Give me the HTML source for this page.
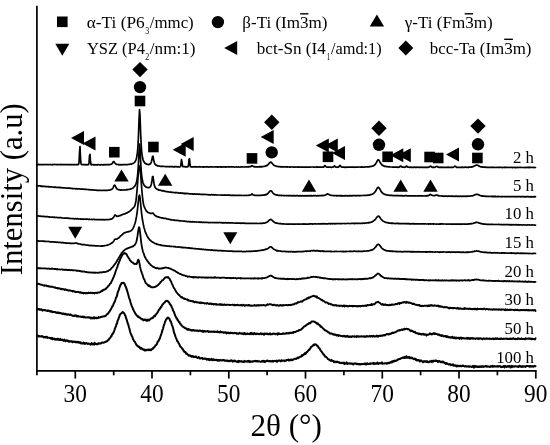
<!DOCTYPE html>
<html><head><meta charset="utf-8"><title>XRD patterns</title>
<style>
html,body{margin:0;padding:0;background:#fff;}
svg{display:block;}
text{font-family:"Liberation Serif",serif;fill:#000;}
</style></head>
<body>
<svg width="550" height="445" viewBox="0 0 550 445">
<rect width="550" height="445" fill="#fff"/>
<g fill="none" stroke="#000" stroke-linejoin="round" stroke-linecap="round">
<path d="M37.0,164.7 L37.5,164.6 L38.0,164.6 L38.5,164.4 L39.0,164.6 L39.5,164.6 L40.0,164.6 L40.5,164.5 L41.0,164.6 L41.5,164.6 L42.0,164.5 L42.5,164.7 L43.0,164.7 L43.5,164.7 L44.0,164.6 L44.5,164.6 L45.0,164.5 L45.5,164.5 L46.0,164.7 L46.5,164.5 L47.0,164.5 L47.5,164.6 L48.0,164.7 L48.5,164.6 L49.0,164.5 L49.5,164.5 L50.0,164.6 L50.5,164.6 L51.0,164.5 L51.5,164.6 L52.0,164.7 L52.5,164.8 L53.0,164.5 L53.5,164.6 L54.0,164.5 L54.5,164.4 L55.0,164.5 L55.5,164.5 L56.0,164.7 L56.5,164.6 L57.0,164.5 L57.5,164.7 L58.0,164.6 L58.5,164.5 L59.0,164.6 L59.5,164.6 L60.0,164.5 L60.5,164.6 L61.0,164.4 L61.5,164.6 L62.0,164.7 L62.5,164.7 L63.0,164.7 L63.5,164.7 L64.0,164.7 L64.5,164.5 L65.0,164.7 L65.5,164.5 L66.0,164.6 L66.5,164.5 L67.0,164.7 L67.5,164.7 L68.0,164.6 L68.5,164.8 L69.0,164.6 L69.5,164.7 L70.0,164.7 L70.5,164.6 L71.0,164.7 L71.5,164.8 L72.0,164.6 L72.5,164.7 L73.0,164.6 L73.5,164.8 L74.0,164.7 L74.5,164.7 L75.0,164.7 L75.5,164.7 L76.0,164.6 L76.5,164.8 L77.0,164.6 L77.5,164.7 L78.0,164.7 L78.5,164.5 L79.0,162.7 L79.5,152.8 L80.0,146.6 L80.5,157.8 L81.0,163.8 L81.5,164.6 L82.0,164.7 L82.5,164.7 L83.0,164.6 L83.5,164.7 L84.0,164.7 L84.5,164.7 L85.0,164.8 L85.5,164.6 L86.0,164.7 L86.5,164.9 L87.0,164.8 L87.5,164.6 L88.0,164.7 L88.5,164.7 L89.0,162.9 L89.5,155.8 L90.0,154.4 L90.5,161.7 L91.0,164.6 L91.5,164.8 L92.0,164.7 L92.5,164.7 L93.0,164.7 L93.5,164.8 L94.0,164.7 L94.5,164.8 L95.0,164.8 L95.5,164.8 L96.0,164.7 L96.5,164.9 L97.0,164.7 L97.5,164.8 L98.0,164.7 L98.5,164.6 L99.0,164.8 L99.5,164.8 L100.0,164.8 L100.5,164.8 L101.0,164.7 L101.5,164.7 L102.0,164.8 L102.5,164.9 L103.0,164.8 L103.5,164.7 L104.0,164.8 L104.5,164.7 L105.0,164.7 L105.5,164.8 L106.0,164.7 L106.5,164.6 L107.0,164.7 L107.5,164.7 L108.0,164.7 L108.5,164.8 L109.0,164.6 L109.5,164.6 L110.0,164.5 L110.5,164.4 L111.0,164.3 L111.5,164.0 L112.0,163.6 L112.5,163.1 L113.0,162.1 L113.5,161.5 L114.0,161.6 L114.5,162.4 L115.0,163.1 L115.5,163.7 L116.0,164.1 L116.5,164.4 L117.0,164.4 L117.5,164.5 L118.0,164.6 L118.5,164.5 L119.0,164.9 L119.5,164.7 L120.0,164.6 L120.5,164.8 L121.0,164.7 L121.5,164.8 L122.0,164.8 L122.5,164.7 L123.0,164.7 L123.5,164.7 L124.0,164.7 L124.5,164.6 L125.0,164.6 L125.5,164.7 L126.0,164.7 L126.5,164.7 L127.0,164.7 L127.5,164.6 L128.0,164.5 L128.5,164.5 L129.0,164.3 L129.5,164.3 L130.0,164.2 L130.5,164.2 L131.0,164.2 L131.5,163.9 L132.0,163.8 L132.5,163.5 L133.0,163.4 L133.5,163.2 L134.0,162.8 L134.5,162.3 L135.0,161.9 L135.5,161.0 L136.0,159.7 L136.5,158.0 L137.0,155.5 L137.5,151.6 L138.0,145.2 L138.5,134.9 L139.0,120.5 L139.5,109.7 L140.0,115.0 L140.5,129.5 L141.0,141.8 L141.5,149.5 L142.0,154.3 L142.5,157.6 L143.0,159.4 L143.5,161.0 L144.0,161.8 L144.5,162.6 L145.0,163.2 L145.5,163.5 L146.0,163.9 L146.5,164.1 L147.0,164.2 L147.5,164.4 L148.0,164.4 L148.5,164.6 L149.0,164.5 L149.5,164.5 L150.0,163.9 L150.5,163.7 L151.0,162.9 L151.5,161.5 L152.0,159.3 L152.5,156.5 L153.0,156.2 L153.5,158.8 L154.0,161.6 L154.5,163.1 L155.0,164.1 L155.5,164.6 L156.0,165.1 L156.5,165.2 L157.0,165.5 L157.5,165.9 L158.0,165.9 L158.5,166.0 L159.0,166.1 L159.5,166.2 L160.0,166.2 L160.5,166.4 L161.0,166.3 L161.5,166.3 L162.0,166.5 L162.5,166.2 L163.0,166.4 L163.5,166.5 L164.0,166.4 L164.5,166.5 L165.0,166.5 L165.5,166.5 L166.0,166.8 L166.5,166.6 L167.0,166.6 L167.5,166.7 L168.0,166.6 L168.5,166.7 L169.0,166.7 L169.5,166.8 L170.0,166.6 L170.5,166.7 L171.0,166.7 L171.5,166.6 L172.0,166.8 L172.5,166.6 L173.0,166.8 L173.5,166.8 L174.0,166.8 L174.5,166.7 L175.0,166.8 L175.5,166.6 L176.0,166.7 L176.5,166.7 L177.0,166.8 L177.5,166.8 L178.0,166.8 L178.5,166.7 L179.0,166.9 L179.5,167.0 L180.0,166.8 L180.5,166.5 L181.0,164.0 L181.5,159.6 L182.0,162.1 L182.5,165.9 L183.0,166.7 L183.5,166.7 L184.0,166.7 L184.5,166.7 L185.0,166.8 L185.5,166.7 L186.0,166.9 L186.5,166.9 L187.0,166.7 L187.5,166.8 L188.0,166.7 L188.5,165.4 L189.0,159.8 L189.5,158.7 L190.0,164.5 L190.5,166.7 L191.0,166.8 L191.5,167.0 L192.0,166.9 L192.5,166.9 L193.0,166.8 L193.5,166.9 L194.0,166.9 L194.5,166.7 L195.0,166.9 L195.5,166.7 L196.0,166.9 L196.5,166.8 L197.0,167.0 L197.5,166.9 L198.0,167.0 L198.5,167.0 L199.0,166.8 L199.5,166.7 L200.0,166.9 L200.5,167.0 L201.0,166.9 L201.5,167.0 L202.0,167.0 L202.5,166.8 L203.0,166.9 L203.5,167.1 L204.0,166.9 L204.5,166.8 L205.0,166.9 L205.5,166.9 L206.0,167.0 L206.5,166.8 L207.0,166.9 L207.5,166.7 L208.0,167.0 L208.5,167.1 L209.0,167.0 L209.5,166.8 L210.0,167.0 L210.5,166.7 L211.0,167.0 L211.5,166.9 L212.0,166.9 L212.5,167.0 L213.0,166.9 L213.5,167.0 L214.0,167.0 L214.5,167.0 L215.0,166.8 L215.5,166.9 L216.0,166.9 L216.5,167.0 L217.0,166.9 L217.5,167.1 L218.0,166.9 L218.5,166.9 L219.0,167.0 L219.5,166.9 L220.0,167.0 L220.5,166.9 L221.0,167.1 L221.5,166.9 L222.0,167.0 L222.5,167.0 L223.0,167.1 L223.5,166.8 L224.0,167.0 L224.5,166.9 L225.0,167.0 L225.5,167.1 L226.0,166.9 L226.5,166.9 L227.0,166.9 L227.5,167.0 L228.0,166.8 L228.5,167.0 L229.0,166.9 L229.5,166.9 L230.0,166.9 L230.5,167.0 L231.0,166.9 L231.5,166.9 L232.0,167.0 L232.5,166.9 L233.0,166.8 L233.5,166.9 L234.0,167.0 L234.5,167.1 L235.0,167.1 L235.5,167.0 L236.0,167.0 L236.5,166.9 L237.0,167.0 L237.5,167.0 L238.0,167.1 L238.5,166.9 L239.0,167.0 L239.5,167.0 L240.0,167.1 L240.5,167.0 L241.0,166.9 L241.5,166.9 L242.0,166.9 L242.5,166.9 L243.0,167.0 L243.5,167.0 L244.0,167.0 L244.5,167.0 L245.0,166.9 L245.5,167.0 L246.0,166.9 L246.5,166.9 L247.0,167.0 L247.5,166.9 L248.0,166.7 L248.5,166.8 L249.0,166.8 L249.5,166.7 L250.0,166.6 L250.5,166.7 L251.0,166.5 L251.5,165.9 L252.0,165.8 L252.5,166.1 L253.0,166.2 L253.5,166.6 L254.0,166.7 L254.5,166.8 L255.0,166.7 L255.5,166.8 L256.0,166.9 L256.5,166.9 L257.0,167.0 L257.5,166.8 L258.0,167.0 L258.5,166.9 L259.0,166.7 L259.5,166.8 L260.0,166.7 L260.5,166.8 L261.0,166.7 L261.5,166.8 L262.0,166.7 L262.5,166.6 L263.0,166.6 L263.5,166.5 L264.0,166.4 L264.5,166.4 L265.0,166.2 L265.5,166.1 L266.0,165.9 L266.5,165.6 L267.0,165.4 L267.5,165.3 L268.0,164.7 L268.5,164.2 L269.0,163.5 L269.5,162.9 L270.0,162.5 L270.5,162.2 L271.0,162.1 L271.5,162.5 L272.0,163.1 L272.5,163.7 L273.0,164.3 L273.5,164.8 L274.0,165.3 L274.5,165.6 L275.0,165.8 L275.5,166.0 L276.0,166.0 L276.5,166.3 L277.0,166.3 L277.5,166.5 L278.0,166.6 L278.5,166.7 L279.0,166.6 L279.5,166.5 L280.0,166.8 L280.5,166.9 L281.0,166.7 L281.5,166.8 L282.0,166.9 L282.5,166.8 L283.0,167.0 L283.5,166.9 L284.0,166.8 L284.5,167.0 L285.0,167.0 L285.5,166.9 L286.0,167.0 L286.5,166.8 L287.0,167.1 L287.5,166.9 L288.0,167.0 L288.5,167.0 L289.0,167.0 L289.5,167.1 L290.0,166.9 L290.5,167.1 L291.0,167.0 L291.5,167.0 L292.0,167.0 L292.5,166.9 L293.0,167.0 L293.5,167.1 L294.0,167.0 L294.5,167.1 L295.0,167.1 L295.5,167.0 L296.0,166.9 L296.5,167.0 L297.0,167.1 L297.5,167.1 L298.0,167.0 L298.5,167.1 L299.0,166.9 L299.5,167.0 L300.0,167.1 L300.5,167.2 L301.0,167.1 L301.5,167.0 L302.0,167.1 L302.5,167.1 L303.0,167.2 L303.5,167.1 L304.0,167.0 L304.5,167.1 L305.0,167.1 L305.5,167.2 L306.0,167.3 L306.5,167.0 L307.0,167.1 L307.5,167.1 L308.0,167.1 L308.5,167.1 L309.0,167.1 L309.5,167.1 L310.0,167.2 L310.5,167.1 L311.0,167.0 L311.5,167.0 L312.0,167.0 L312.5,167.0 L313.0,167.0 L313.5,167.2 L314.0,167.1 L314.5,167.1 L315.0,167.0 L315.5,167.0 L316.0,167.0 L316.5,167.3 L317.0,166.9 L317.5,167.1 L318.0,167.2 L318.5,167.1 L319.0,167.1 L319.5,167.2 L320.0,167.0 L320.5,167.2 L321.0,167.2 L321.5,167.0 L322.0,167.1 L322.5,167.1 L323.0,167.2 L323.5,167.1 L324.0,166.6 L324.5,165.9 L325.0,165.6 L325.5,166.2 L326.0,166.8 L326.5,167.0 L327.0,167.1 L327.5,167.2 L328.0,167.2 L328.5,167.1 L329.0,167.2 L329.5,167.1 L330.0,167.1 L330.5,167.1 L331.0,167.3 L331.5,167.4 L332.0,167.2 L332.5,167.2 L333.0,167.2 L333.5,166.7 L334.0,166.3 L334.5,165.9 L335.0,166.4 L335.5,166.9 L336.0,167.1 L336.5,167.1 L337.0,167.3 L337.5,167.2 L338.0,167.2 L338.5,167.1 L339.0,166.5 L339.5,165.9 L340.0,165.4 L340.5,165.9 L341.0,166.6 L341.5,167.0 L342.0,167.2 L342.5,167.2 L343.0,167.2 L343.5,167.1 L344.0,167.2 L344.5,167.3 L345.0,167.2 L345.5,167.2 L346.0,167.3 L346.5,167.3 L347.0,167.2 L347.5,167.1 L348.0,167.1 L348.5,167.2 L349.0,167.2 L349.5,167.2 L350.0,167.1 L350.5,167.2 L351.0,167.1 L351.5,167.2 L352.0,167.1 L352.5,167.2 L353.0,167.1 L353.5,167.1 L354.0,167.1 L354.5,167.3 L355.0,167.2 L355.5,167.1 L356.0,167.0 L356.5,167.1 L357.0,167.2 L357.5,167.2 L358.0,167.0 L358.5,167.0 L359.0,167.1 L359.5,167.0 L360.0,167.0 L360.5,167.1 L361.0,167.1 L361.5,166.9 L362.0,167.1 L362.5,167.1 L363.0,167.1 L363.5,167.0 L364.0,167.2 L364.5,167.0 L365.0,166.9 L365.5,167.0 L366.0,166.8 L366.5,167.0 L367.0,166.8 L367.5,166.9 L368.0,166.8 L368.5,166.9 L369.0,166.8 L369.5,166.7 L370.0,166.6 L370.5,166.6 L371.0,166.3 L371.5,166.4 L372.0,166.3 L372.5,166.1 L373.0,165.9 L373.5,165.9 L374.0,165.4 L374.5,165.1 L375.0,164.5 L375.5,164.1 L376.0,163.0 L376.5,162.5 L377.0,161.3 L377.5,160.3 L378.0,159.8 L378.5,159.8 L379.0,160.3 L379.5,161.2 L380.0,162.2 L380.5,163.0 L381.0,163.8 L381.5,164.2 L382.0,165.0 L382.5,165.4 L383.0,165.6 L383.5,165.7 L384.0,166.0 L384.5,166.4 L385.0,166.3 L385.5,166.4 L386.0,166.5 L386.5,166.7 L387.0,166.7 L387.5,166.7 L388.0,166.7 L388.5,166.8 L389.0,167.0 L389.5,166.9 L390.0,167.0 L390.5,167.0 L391.0,167.0 L391.5,167.0 L392.0,167.0 L392.5,167.1 L393.0,167.1 L393.5,167.0 L394.0,167.1 L394.5,167.1 L395.0,167.2 L395.5,167.1 L396.0,167.2 L396.5,167.0 L397.0,167.2 L397.5,167.3 L398.0,167.1 L398.5,167.3 L399.0,167.2 L399.5,167.0 L400.0,166.4 L400.5,166.1 L401.0,166.1 L401.5,166.6 L402.0,167.1 L402.5,167.1 L403.0,167.1 L403.5,167.1 L404.0,167.2 L404.5,167.3 L405.0,167.2 L405.5,166.9 L406.0,166.3 L406.5,166.1 L407.0,166.3 L407.5,167.1 L408.0,167.2 L408.5,167.1 L409.0,167.2 L409.5,167.4 L410.0,167.2 L410.5,167.2 L411.0,167.3 L411.5,167.2 L412.0,167.4 L412.5,167.4 L413.0,167.2 L413.5,167.4 L414.0,167.2 L414.5,167.2 L415.0,167.3 L415.5,167.3 L416.0,167.2 L416.5,167.4 L417.0,167.2 L417.5,167.2 L418.0,167.2 L418.5,167.4 L419.0,167.4 L419.5,167.3 L420.0,167.2 L420.5,167.3 L421.0,167.3 L421.5,167.2 L422.0,167.2 L422.5,167.4 L423.0,167.4 L423.5,167.3 L424.0,167.4 L424.5,167.3 L425.0,167.3 L425.5,167.3 L426.0,167.2 L426.5,167.3 L427.0,167.3 L427.5,167.5 L428.0,167.3 L428.5,167.3 L429.0,167.1 L429.5,166.7 L430.0,166.3 L430.5,166.2 L431.0,166.4 L431.5,167.0 L432.0,167.1 L432.5,167.3 L433.0,167.4 L433.5,167.2 L434.0,167.3 L434.5,167.3 L435.0,167.2 L435.5,167.0 L436.0,166.5 L436.5,166.5 L437.0,166.3 L437.5,166.7 L438.0,167.2 L438.5,167.1 L439.0,167.4 L439.5,167.4 L440.0,167.4 L440.5,167.3 L441.0,167.2 L441.5,167.2 L442.0,167.5 L442.5,167.3 L443.0,167.3 L443.5,167.5 L444.0,167.3 L444.5,167.3 L445.0,167.3 L445.5,167.3 L446.0,167.3 L446.5,167.3 L447.0,167.4 L447.5,167.4 L448.0,167.1 L448.5,167.2 L449.0,167.4 L449.5,167.3 L450.0,167.3 L450.5,167.4 L451.0,167.2 L451.5,167.4 L452.0,167.4 L452.5,167.4 L453.0,167.3 L453.5,167.2 L454.0,166.8 L454.5,166.3 L455.0,166.2 L455.5,166.4 L456.0,166.7 L456.5,167.3 L457.0,167.4 L457.5,167.4 L458.0,167.3 L458.5,167.4 L459.0,167.3 L459.5,167.3 L460.0,167.3 L460.5,167.3 L461.0,167.3 L461.5,167.5 L462.0,167.2 L462.5,167.2 L463.0,167.3 L463.5,167.4 L464.0,167.3 L464.5,167.3 L465.0,167.2 L465.5,167.2 L466.0,167.2 L466.5,167.3 L467.0,167.3 L467.5,167.3 L468.0,167.2 L468.5,167.4 L469.0,167.1 L469.5,167.0 L470.0,167.1 L470.5,167.1 L471.0,167.1 L471.5,166.9 L472.0,166.9 L472.5,166.9 L473.0,166.6 L473.5,166.4 L474.0,166.1 L474.5,166.0 L475.0,165.8 L475.5,165.4 L476.0,165.2 L476.5,165.0 L477.0,165.0 L477.5,165.2 L478.0,165.4 L478.5,165.7 L479.0,166.1 L479.5,166.2 L480.0,166.6 L480.5,166.8 L481.0,166.8 L481.5,166.8 L482.0,166.9 L482.5,167.1 L483.0,167.0 L483.5,167.1 L484.0,167.1 L484.5,167.2 L485.0,167.3 L485.5,167.2 L486.0,167.1 L486.5,167.4 L487.0,167.3 L487.5,167.4 L488.0,167.3 L488.5,167.4 L489.0,167.4 L489.5,167.4 L490.0,167.3 L490.5,167.3 L491.0,167.4 L491.5,167.4 L492.0,167.4 L492.5,167.3 L493.0,167.2 L493.5,167.4 L494.0,167.4 L494.5,167.4 L495.0,167.5 L495.5,167.5 L496.0,167.4 L496.5,167.5 L497.0,167.4 L497.5,167.5 L498.0,167.4 L498.5,167.4 L499.0,167.4 L499.5,167.4 L500.0,167.3 L500.5,167.4 L501.0,167.2 L501.5,167.5 L502.0,167.5 L502.5,167.6 L503.0,167.5 L503.5,167.4 L504.0,167.3 L504.5,167.6 L505.0,167.3 L505.5,167.5 L506.0,167.3 L506.5,167.4 L507.0,167.5 L507.5,167.5 L508.0,167.4 L508.5,167.4 L509.0,167.4 L509.5,167.5 L510.0,167.5 L510.5,167.4 L511.0,167.5 L511.5,167.4 L512.0,167.5 L512.5,167.6 L513.0,167.4 L513.5,167.5 L514.0,167.5 L514.5,167.4 L515.0,167.6 L515.5,167.6 L516.0,167.4 L516.5,167.5 L517.0,167.6 L517.5,167.4 L518.0,167.5 L518.5,167.5 L519.0,167.4 L519.5,167.5 L520.0,167.4 L520.5,167.4 L521.0,167.4 L521.5,167.5 L522.0,167.5 L522.5,167.5 L523.0,167.5 L523.5,167.5 L524.0,167.6 L524.5,167.5 L525.0,167.4 L525.5,167.5 L526.0,167.6 L526.5,167.4 L527.0,167.4 L527.5,167.5 L528.0,167.4 L528.5,167.6 L529.0,167.3 L529.5,167.6 L530.0,167.4 L530.5,167.4 L531.0,167.5 L531.5,167.3 L532.0,167.5 L532.5,167.5 L533.0,167.4 L533.5,167.5 L534.0,167.6 L534.5,167.4 L535.0,167.5 L535.5,167.5" stroke-width="1.7"/>
<path d="M37.0,185.9 L37.5,185.8 L38.0,185.9 L38.5,186.0 L39.0,185.7 L39.5,186.0 L40.0,185.9 L40.5,185.9 L41.0,186.3 L41.5,186.2 L42.0,186.3 L42.5,186.2 L43.0,186.3 L43.5,186.3 L44.0,186.3 L44.5,186.4 L45.0,186.4 L45.5,186.6 L46.0,186.5 L46.5,186.6 L47.0,186.6 L47.5,186.6 L48.0,186.6 L48.5,186.8 L49.0,186.7 L49.5,186.8 L50.0,186.8 L50.5,186.9 L51.0,186.9 L51.5,186.9 L52.0,187.0 L52.5,187.0 L53.0,187.1 L53.5,187.1 L54.0,187.2 L54.5,187.3 L55.0,187.2 L55.5,187.1 L56.0,187.4 L56.5,187.5 L57.0,187.3 L57.5,187.4 L58.0,187.3 L58.5,187.5 L59.0,187.4 L59.5,187.7 L60.0,187.4 L60.5,187.6 L61.0,187.7 L61.5,187.7 L62.0,187.7 L62.5,187.8 L63.0,187.8 L63.5,187.8 L64.0,187.9 L64.5,187.9 L65.0,187.9 L65.5,188.0 L66.0,188.0 L66.5,188.1 L67.0,188.0 L67.5,188.2 L68.0,188.1 L68.5,188.3 L69.0,188.0 L69.5,188.2 L70.0,188.2 L70.5,188.4 L71.0,188.4 L71.5,188.3 L72.0,188.4 L72.5,188.6 L73.0,188.5 L73.5,188.6 L74.0,188.5 L74.5,188.5 L75.0,188.7 L75.5,188.9 L76.0,188.7 L76.5,188.8 L77.0,188.7 L77.5,188.9 L78.0,188.8 L78.5,188.8 L79.0,188.8 L79.5,188.9 L80.0,189.0 L80.5,189.1 L81.0,189.0 L81.5,189.2 L82.0,189.1 L82.5,189.1 L83.0,189.1 L83.5,189.1 L84.0,189.2 L84.5,189.4 L85.0,189.2 L85.5,189.3 L86.0,189.5 L86.5,189.3 L87.0,189.5 L87.5,189.5 L88.0,189.6 L88.5,189.7 L89.0,189.7 L89.5,189.7 L90.0,189.8 L90.5,189.8 L91.0,189.8 L91.5,189.9 L92.0,189.8 L92.5,190.0 L93.0,189.9 L93.5,190.0 L94.0,190.2 L94.5,190.2 L95.0,190.1 L95.5,190.1 L96.0,190.1 L96.5,190.3 L97.0,190.3 L97.5,190.3 L98.0,190.5 L98.5,190.3 L99.0,190.3 L99.5,190.4 L100.0,190.4 L100.5,190.4 L101.0,190.4 L101.5,190.5 L102.0,190.5 L102.5,190.4 L103.0,190.3 L103.5,190.5 L104.0,190.4 L104.5,190.4 L105.0,190.4 L105.5,190.3 L106.0,190.4 L106.5,190.4 L107.0,190.3 L107.5,190.4 L108.0,190.2 L108.5,190.2 L109.0,190.1 L109.5,190.1 L110.0,190.0 L110.5,189.9 L111.0,189.6 L111.5,189.5 L112.0,189.2 L112.5,188.7 L113.0,187.9 L113.5,186.9 L114.0,185.7 L114.5,185.2 L115.0,185.3 L115.5,186.3 L116.0,187.5 L116.5,188.2 L117.0,189.0 L117.5,189.3 L118.0,189.5 L118.5,189.6 L119.0,189.7 L119.5,189.9 L120.0,190.0 L120.5,190.2 L121.0,190.1 L121.5,189.9 L122.0,190.0 L122.5,190.0 L123.0,190.1 L123.5,190.0 L124.0,190.0 L124.5,189.9 L125.0,190.0 L125.5,190.0 L126.0,189.8 L126.5,189.7 L127.0,189.7 L127.5,189.8 L128.0,189.6 L128.5,189.5 L129.0,189.4 L129.5,189.4 L130.0,189.2 L130.5,189.1 L131.0,188.9 L131.5,188.7 L132.0,188.5 L132.5,188.3 L133.0,188.0 L133.5,187.4 L134.0,187.0 L134.5,186.5 L135.0,185.8 L135.5,184.8 L136.0,183.6 L136.5,181.9 L137.0,179.6 L137.5,176.1 L138.0,170.8 L138.5,162.7 L139.0,152.0 L139.5,144.2 L140.0,147.9 L140.5,158.4 L141.0,167.7 L141.5,174.1 L142.0,178.1 L142.5,180.8 L143.0,182.7 L143.5,184.0 L144.0,185.0 L144.5,185.6 L145.0,186.2 L145.5,186.6 L146.0,187.1 L146.5,187.2 L147.0,187.4 L147.5,187.5 L148.0,187.6 L148.5,187.7 L149.0,187.5 L149.5,187.4 L150.0,187.0 L150.5,186.5 L151.0,185.4 L151.5,183.5 L152.0,180.4 L152.5,176.7 L153.0,176.4 L153.5,180.0 L154.0,183.4 L154.5,185.8 L155.0,187.0 L155.5,188.0 L156.0,188.5 L156.5,188.8 L157.0,189.2 L157.5,189.3 L158.0,189.6 L158.5,189.9 L159.0,190.1 L159.5,190.2 L160.0,190.1 L160.5,190.3 L161.0,190.6 L161.5,190.6 L162.0,190.8 L162.5,190.7 L163.0,190.8 L163.5,190.9 L164.0,191.0 L164.5,191.3 L165.0,191.2 L165.5,191.4 L166.0,191.5 L166.5,191.6 L167.0,191.6 L167.5,191.7 L168.0,191.9 L168.5,191.8 L169.0,192.0 L169.5,192.1 L170.0,192.1 L170.5,192.3 L171.0,192.0 L171.5,192.3 L172.0,192.3 L172.5,192.4 L173.0,192.4 L173.5,192.5 L174.0,192.5 L174.5,192.7 L175.0,192.5 L175.5,192.8 L176.0,192.7 L176.5,192.7 L177.0,192.7 L177.5,192.7 L178.0,192.8 L178.5,193.0 L179.0,193.1 L179.5,193.1 L180.0,193.0 L180.5,192.9 L181.0,193.1 L181.5,193.1 L182.0,193.2 L182.5,193.2 L183.0,193.5 L183.5,193.2 L184.0,193.4 L184.5,193.6 L185.0,193.4 L185.5,193.4 L186.0,193.7 L186.5,193.4 L187.0,193.4 L187.5,193.5 L188.0,193.7 L188.5,193.7 L189.0,193.7 L189.5,193.9 L190.0,193.8 L190.5,193.8 L191.0,193.8 L191.5,194.0 L192.0,193.9 L192.5,193.9 L193.0,194.1 L193.5,194.1 L194.0,194.1 L194.5,193.9 L195.0,194.0 L195.5,194.1 L196.0,194.1 L196.5,194.1 L197.0,194.1 L197.5,194.2 L198.0,194.1 L198.5,194.3 L199.0,194.2 L199.5,194.2 L200.0,194.3 L200.5,194.4 L201.0,194.4 L201.5,194.3 L202.0,194.4 L202.5,194.4 L203.0,194.5 L203.5,194.4 L204.0,194.6 L204.5,194.5 L205.0,194.4 L205.5,194.4 L206.0,194.5 L206.5,194.6 L207.0,194.5 L207.5,194.6 L208.0,194.6 L208.5,194.8 L209.0,194.9 L209.5,194.7 L210.0,194.9 L210.5,194.8 L211.0,194.8 L211.5,194.7 L212.0,194.7 L212.5,194.8 L213.0,194.9 L213.5,194.7 L214.0,194.8 L214.5,194.9 L215.0,194.9 L215.5,194.8 L216.0,194.9 L216.5,195.0 L217.0,195.1 L217.5,195.0 L218.0,195.0 L218.5,195.0 L219.0,195.0 L219.5,195.0 L220.0,195.0 L220.5,195.0 L221.0,195.1 L221.5,195.2 L222.0,195.1 L222.5,195.1 L223.0,195.1 L223.5,195.2 L224.0,194.9 L224.5,195.0 L225.0,195.1 L225.5,195.0 L226.0,195.2 L226.5,195.2 L227.0,195.1 L227.5,195.2 L228.0,195.1 L228.5,195.2 L229.0,195.2 L229.5,195.1 L230.0,195.3 L230.5,195.2 L231.0,195.4 L231.5,195.3 L232.0,195.3 L232.5,195.2 L233.0,195.3 L233.5,195.3 L234.0,195.3 L234.5,195.4 L235.0,195.3 L235.5,195.3 L236.0,195.4 L236.5,195.4 L237.0,195.4 L237.5,195.4 L238.0,195.3 L238.5,195.4 L239.0,195.4 L239.5,195.4 L240.0,195.4 L240.5,195.5 L241.0,195.4 L241.5,195.4 L242.0,195.5 L242.5,195.5 L243.0,195.5 L243.5,195.5 L244.0,195.4 L244.5,195.5 L245.0,195.5 L245.5,195.5 L246.0,195.3 L246.5,195.4 L247.0,195.5 L247.5,195.5 L248.0,195.4 L248.5,195.4 L249.0,195.2 L249.5,195.2 L250.0,195.0 L250.5,195.0 L251.0,194.9 L251.5,194.5 L252.0,193.9 L252.5,194.4 L253.0,194.9 L253.5,195.0 L254.0,195.0 L254.5,195.4 L255.0,195.3 L255.5,195.3 L256.0,195.5 L256.5,195.4 L257.0,195.5 L257.5,195.5 L258.0,195.4 L258.5,195.3 L259.0,195.5 L259.5,195.4 L260.0,195.4 L260.5,195.4 L261.0,195.3 L261.5,195.3 L262.0,195.2 L262.5,195.2 L263.0,195.2 L263.5,195.2 L264.0,195.1 L264.5,194.9 L265.0,194.9 L265.5,194.6 L266.0,194.8 L266.5,194.3 L267.0,194.1 L267.5,193.9 L268.0,193.4 L268.5,192.8 L269.0,192.2 L269.5,191.7 L270.0,191.1 L270.5,190.8 L271.0,190.8 L271.5,191.1 L272.0,191.8 L272.5,192.5 L273.0,193.0 L273.5,193.8 L274.0,193.9 L274.5,194.3 L275.0,194.6 L275.5,194.7 L276.0,194.9 L276.5,195.0 L277.0,195.2 L277.5,194.9 L278.0,195.3 L278.5,195.3 L279.0,195.3 L279.5,195.4 L280.0,195.4 L280.5,195.5 L281.0,195.4 L281.5,195.6 L282.0,195.4 L282.5,195.5 L283.0,195.5 L283.5,195.6 L284.0,195.6 L284.5,195.7 L285.0,195.6 L285.5,195.7 L286.0,195.7 L286.5,195.6 L287.0,195.5 L287.5,195.6 L288.0,195.5 L288.5,195.8 L289.0,195.7 L289.5,195.6 L290.0,195.8 L290.5,195.7 L291.0,195.5 L291.5,195.8 L292.0,195.8 L292.5,195.7 L293.0,195.6 L293.5,195.8 L294.0,195.7 L294.5,195.7 L295.0,195.8 L295.5,195.8 L296.0,195.7 L296.5,195.7 L297.0,195.8 L297.5,195.6 L298.0,195.8 L298.5,195.8 L299.0,195.8 L299.5,195.7 L300.0,195.8 L300.5,195.8 L301.0,195.7 L301.5,195.8 L302.0,195.8 L302.5,195.7 L303.0,195.7 L303.5,195.9 L304.0,195.8 L304.5,195.7 L305.0,195.8 L305.5,195.8 L306.0,195.9 L306.5,195.9 L307.0,195.6 L307.5,195.7 L308.0,195.9 L308.5,195.9 L309.0,195.7 L309.5,195.7 L310.0,195.8 L310.5,195.7 L311.0,195.8 L311.5,195.7 L312.0,195.8 L312.5,195.8 L313.0,195.8 L313.5,195.7 L314.0,195.6 L314.5,195.6 L315.0,195.8 L315.5,195.6 L316.0,195.8 L316.5,195.9 L317.0,195.7 L317.5,195.7 L318.0,195.8 L318.5,195.8 L319.0,195.7 L319.5,195.7 L320.0,195.7 L320.5,195.6 L321.0,195.7 L321.5,195.7 L322.0,195.7 L322.5,195.4 L323.0,195.6 L323.5,195.5 L324.0,195.4 L324.5,195.3 L325.0,195.2 L325.5,195.0 L326.0,194.7 L326.5,194.5 L327.0,194.1 L327.5,193.9 L328.0,194.0 L328.5,194.2 L329.0,194.5 L329.5,194.9 L330.0,195.0 L330.5,195.3 L331.0,195.3 L331.5,195.4 L332.0,195.4 L332.5,195.5 L333.0,195.5 L333.5,195.7 L334.0,195.5 L334.5,195.7 L335.0,195.7 L335.5,195.7 L336.0,195.7 L336.5,195.8 L337.0,195.7 L337.5,195.8 L338.0,195.6 L338.5,195.8 L339.0,195.8 L339.5,195.6 L340.0,195.8 L340.5,195.7 L341.0,195.8 L341.5,195.7 L342.0,195.8 L342.5,195.8 L343.0,195.7 L343.5,195.9 L344.0,195.8 L344.5,195.7 L345.0,195.8 L345.5,195.8 L346.0,195.7 L346.5,195.7 L347.0,195.9 L347.5,195.7 L348.0,195.8 L348.5,195.9 L349.0,195.8 L349.5,195.7 L350.0,195.8 L350.5,195.6 L351.0,195.7 L351.5,196.0 L352.0,195.7 L352.5,195.8 L353.0,195.6 L353.5,195.7 L354.0,195.7 L354.5,195.5 L355.0,195.6 L355.5,195.7 L356.0,195.8 L356.5,195.7 L357.0,195.6 L357.5,195.7 L358.0,195.6 L358.5,195.6 L359.0,195.6 L359.5,195.8 L360.0,195.6 L360.5,195.7 L361.0,195.6 L361.5,195.5 L362.0,195.5 L362.5,195.5 L363.0,195.5 L363.5,195.5 L364.0,195.4 L364.5,195.4 L365.0,195.5 L365.5,195.4 L366.0,195.3 L366.5,195.3 L367.0,195.4 L367.5,195.2 L368.0,195.1 L368.5,195.2 L369.0,195.2 L369.5,195.1 L370.0,194.8 L370.5,194.6 L371.0,194.7 L371.5,194.5 L372.0,194.3 L372.5,194.0 L373.0,193.9 L373.5,193.5 L374.0,193.0 L374.5,192.6 L375.0,191.9 L375.5,191.3 L376.0,190.5 L376.5,189.4 L377.0,188.6 L377.5,187.8 L378.0,187.3 L378.5,187.4 L379.0,187.9 L379.5,188.6 L380.0,189.3 L380.5,190.2 L381.0,191.2 L381.5,191.9 L382.0,192.5 L382.5,192.9 L383.0,193.2 L383.5,193.9 L384.0,194.0 L384.5,194.2 L385.0,194.4 L385.5,194.7 L386.0,194.7 L386.5,194.9 L387.0,195.0 L387.5,195.0 L388.0,195.2 L388.5,195.0 L389.0,195.3 L389.5,195.3 L390.0,195.3 L390.5,195.3 L391.0,195.5 L391.5,195.4 L392.0,195.4 L392.5,195.6 L393.0,195.5 L393.5,195.5 L394.0,195.6 L394.5,195.6 L395.0,195.6 L395.5,195.6 L396.0,195.6 L396.5,195.7 L397.0,195.6 L397.5,195.5 L398.0,195.7 L398.5,195.6 L399.0,195.6 L399.5,195.7 L400.0,195.8 L400.5,195.7 L401.0,195.7 L401.5,195.7 L402.0,195.8 L402.5,195.7 L403.0,195.8 L403.5,195.9 L404.0,195.8 L404.5,195.8 L405.0,195.7 L405.5,195.7 L406.0,195.7 L406.5,195.7 L407.0,195.8 L407.5,195.8 L408.0,195.9 L408.5,195.8 L409.0,195.9 L409.5,195.7 L410.0,196.0 L410.5,196.0 L411.0,195.8 L411.5,195.9 L412.0,195.9 L412.5,195.9 L413.0,195.8 L413.5,195.8 L414.0,195.9 L414.5,195.8 L415.0,195.9 L415.5,195.8 L416.0,195.8 L416.5,196.0 L417.0,196.0 L417.5,195.9 L418.0,195.9 L418.5,195.9 L419.0,195.9 L419.5,195.8 L420.0,195.9 L420.5,195.7 L421.0,196.0 L421.5,195.9 L422.0,195.9 L422.5,195.8 L423.0,195.9 L423.5,196.0 L424.0,196.0 L424.5,196.0 L425.0,195.9 L425.5,195.8 L426.0,195.9 L426.5,195.8 L427.0,195.7 L427.5,195.8 L428.0,195.5 L428.5,195.6 L429.0,195.2 L429.5,194.9 L430.0,194.6 L430.5,194.4 L431.0,194.7 L431.5,195.0 L432.0,195.2 L432.5,195.4 L433.0,195.5 L433.5,195.6 L434.0,195.7 L434.5,195.6 L435.0,195.5 L435.5,195.4 L436.0,195.1 L436.5,195.1 L437.0,195.1 L437.5,195.3 L438.0,195.4 L438.5,195.6 L439.0,195.9 L439.5,196.0 L440.0,195.9 L440.5,196.0 L441.0,196.0 L441.5,196.0 L442.0,195.9 L442.5,196.2 L443.0,196.0 L443.5,196.2 L444.0,196.3 L444.5,196.1 L445.0,196.2 L445.5,196.2 L446.0,196.2 L446.5,196.2 L447.0,196.2 L447.5,196.3 L448.0,196.3 L448.5,196.1 L449.0,196.1 L449.5,196.2 L450.0,196.2 L450.5,196.2 L451.0,196.3 L451.5,196.2 L452.0,196.2 L452.5,196.3 L453.0,196.1 L453.5,196.3 L454.0,196.3 L454.5,196.4 L455.0,196.2 L455.5,196.2 L456.0,196.3 L456.5,196.2 L457.0,196.2 L457.5,196.3 L458.0,196.3 L458.5,196.3 L459.0,196.2 L459.5,196.4 L460.0,196.2 L460.5,196.2 L461.0,196.3 L461.5,196.4 L462.0,196.2 L462.5,196.3 L463.0,196.4 L463.5,196.3 L464.0,196.1 L464.5,196.3 L465.0,196.3 L465.5,196.2 L466.0,196.4 L466.5,196.2 L467.0,196.2 L467.5,196.3 L468.0,196.2 L468.5,196.2 L469.0,196.1 L469.5,196.1 L470.0,196.1 L470.5,196.0 L471.0,196.0 L471.5,195.9 L472.0,195.8 L472.5,195.8 L473.0,195.6 L473.5,195.5 L474.0,195.3 L474.5,195.0 L475.0,194.7 L475.5,194.6 L476.0,194.5 L476.5,194.3 L477.0,194.4 L477.5,194.4 L478.0,194.6 L478.5,194.8 L479.0,194.9 L479.5,195.3 L480.0,195.5 L480.5,195.6 L481.0,195.8 L481.5,195.8 L482.0,196.1 L482.5,195.9 L483.0,196.1 L483.5,196.1 L484.0,196.2 L484.5,196.3 L485.0,196.1 L485.5,196.3 L486.0,196.3 L486.5,196.4 L487.0,196.4 L487.5,196.4 L488.0,196.4 L488.5,196.4 L489.0,196.5 L489.5,196.5 L490.0,196.4 L490.5,196.4 L491.0,196.5 L491.5,196.4 L492.0,196.6 L492.5,196.4 L493.0,196.4 L493.5,196.6 L494.0,196.4 L494.5,196.4 L495.0,196.6 L495.5,196.4 L496.0,196.6 L496.5,196.5 L497.0,196.6 L497.5,196.6 L498.0,196.4 L498.5,196.6 L499.0,196.5 L499.5,196.6 L500.0,196.6 L500.5,196.7 L501.0,196.6 L501.5,196.6 L502.0,196.8 L502.5,196.7 L503.0,196.7 L503.5,196.5 L504.0,196.5 L504.5,196.6 L505.0,196.6 L505.5,196.7 L506.0,196.8 L506.5,196.5 L507.0,196.6 L507.5,196.7 L508.0,196.7 L508.5,196.7 L509.0,196.6 L509.5,196.6 L510.0,196.8 L510.5,196.7 L511.0,196.6 L511.5,196.6 L512.0,196.7 L512.5,196.5 L513.0,196.7 L513.5,196.7 L514.0,196.6 L514.5,196.6 L515.0,196.8 L515.5,196.7 L516.0,196.6 L516.5,196.5 L517.0,196.6 L517.5,196.7 L518.0,196.8 L518.5,196.6 L519.0,196.5 L519.5,196.7 L520.0,196.7 L520.5,196.8 L521.0,196.7 L521.5,196.7 L522.0,196.6 L522.5,196.6 L523.0,196.7 L523.5,196.7 L524.0,196.8 L524.5,196.8 L525.0,196.6 L525.5,196.9 L526.0,196.7 L526.5,196.7 L527.0,196.8 L527.5,196.6 L528.0,196.6 L528.5,196.7 L529.0,196.8 L529.5,196.8 L530.0,196.8 L530.5,196.7 L531.0,196.8 L531.5,196.7 L532.0,196.9 L532.5,196.7 L533.0,196.9 L533.5,196.7 L534.0,196.8 L534.5,196.7 L535.0,196.8 L535.5,196.7" stroke-width="1.7"/>
<path d="M37.0,215.8 L37.5,215.8 L38.0,215.8 L38.5,216.0 L39.0,216.1 L39.5,216.0 L40.0,216.1 L40.5,216.2 L41.0,216.3 L41.5,216.3 L42.0,216.3 L42.5,216.5 L43.0,216.3 L43.5,216.5 L44.0,216.4 L44.5,216.7 L45.0,216.5 L45.5,216.6 L46.0,216.8 L46.5,216.7 L47.0,216.7 L47.5,216.6 L48.0,216.8 L48.5,217.0 L49.0,216.9 L49.5,217.1 L50.0,217.1 L50.5,217.0 L51.0,217.0 L51.5,217.1 L52.0,217.2 L52.5,217.2 L53.0,217.2 L53.5,217.3 L54.0,217.3 L54.5,217.2 L55.0,217.4 L55.5,217.5 L56.0,217.4 L56.5,217.4 L57.0,217.5 L57.5,217.6 L58.0,217.6 L58.5,217.7 L59.0,217.6 L59.5,217.7 L60.0,217.7 L60.5,217.7 L61.0,217.7 L61.5,217.8 L62.0,217.9 L62.5,218.0 L63.0,218.0 L63.5,218.0 L64.0,218.1 L64.5,218.0 L65.0,218.2 L65.5,218.2 L66.0,218.2 L66.5,218.2 L67.0,218.2 L67.5,218.2 L68.0,218.2 L68.5,218.3 L69.0,218.2 L69.5,218.3 L70.0,218.5 L70.5,218.5 L71.0,218.6 L71.5,218.5 L72.0,218.5 L72.5,218.6 L73.0,218.6 L73.5,218.5 L74.0,218.8 L74.5,218.8 L75.0,218.8 L75.5,218.7 L76.0,218.7 L76.5,218.8 L77.0,218.8 L77.5,218.7 L78.0,218.8 L78.5,218.9 L79.0,219.0 L79.5,219.0 L80.0,218.9 L80.5,218.9 L81.0,219.2 L81.5,219.0 L82.0,219.1 L82.5,219.1 L83.0,219.0 L83.5,219.3 L84.0,219.2 L84.5,219.2 L85.0,219.1 L85.5,219.2 L86.0,219.3 L86.5,219.2 L87.0,219.2 L87.5,219.2 L88.0,219.2 L88.5,219.4 L89.0,219.3 L89.5,219.2 L90.0,219.5 L90.5,219.5 L91.0,219.5 L91.5,219.3 L92.0,219.5 L92.5,219.6 L93.0,219.4 L93.5,219.4 L94.0,219.5 L94.5,219.4 L95.0,219.6 L95.5,219.7 L96.0,219.6 L96.5,219.7 L97.0,219.6 L97.5,219.6 L98.0,219.6 L98.5,219.6 L99.0,219.6 L99.5,219.6 L100.0,219.7 L100.5,219.7 L101.0,219.7 L101.5,219.7 L102.0,219.8 L102.5,219.7 L103.0,219.6 L103.5,219.6 L104.0,219.9 L104.5,219.8 L105.0,219.7 L105.5,219.7 L106.0,219.7 L106.5,219.6 L107.0,219.7 L107.5,219.7 L108.0,219.7 L108.5,219.5 L109.0,219.5 L109.5,219.4 L110.0,219.3 L110.5,219.3 L111.0,219.0 L111.5,219.1 L112.0,218.8 L112.5,218.5 L113.0,217.9 L113.5,217.4 L114.0,216.6 L114.5,215.7 L115.0,215.0 L115.5,215.3 L116.0,215.6 L116.5,216.1 L117.0,216.4 L117.5,216.3 L118.0,216.2 L118.5,216.1 L119.0,215.9 L119.5,215.7 L120.0,215.6 L120.5,215.4 L121.0,215.3 L121.5,215.0 L122.0,214.7 L122.5,214.6 L123.0,214.3 L123.5,214.2 L124.0,214.0 L124.5,214.0 L125.0,213.7 L125.5,213.6 L126.0,213.1 L126.5,213.1 L127.0,212.9 L127.5,212.6 L128.0,212.3 L128.5,212.1 L129.0,211.8 L129.5,211.4 L130.0,211.1 L130.5,210.7 L131.0,210.1 L131.5,209.6 L132.0,209.1 L132.5,208.6 L133.0,208.0 L133.5,207.7 L134.0,207.1 L134.5,206.4 L135.0,205.1 L135.5,203.3 L136.0,200.4 L136.5,196.1 L137.0,190.8 L137.5,184.2 L138.0,177.4 L138.5,171.4 L139.0,167.2 L139.5,166.0 L140.0,167.9 L140.5,172.6 L141.0,178.7 L141.5,185.7 L142.0,191.9 L142.5,197.1 L143.0,201.3 L143.5,204.2 L144.0,206.0 L144.5,207.4 L145.0,208.4 L145.5,209.3 L146.0,210.5 L146.5,211.1 L147.0,211.8 L147.5,212.1 L148.0,212.5 L148.5,212.7 L149.0,212.7 L149.5,213.0 L150.0,213.2 L150.5,213.5 L151.0,213.4 L151.5,213.4 L152.0,213.3 L152.5,213.2 L153.0,213.0 L153.5,213.6 L154.0,214.4 L154.5,214.9 L155.0,215.4 L155.5,215.7 L156.0,216.0 L156.5,216.4 L157.0,216.6 L157.5,216.6 L158.0,217.0 L158.5,216.9 L159.0,217.1 L159.5,217.4 L160.0,217.5 L160.5,217.5 L161.0,217.8 L161.5,217.8 L162.0,217.9 L162.5,217.9 L163.0,218.1 L163.5,218.2 L164.0,218.4 L164.5,218.3 L165.0,218.5 L165.5,218.4 L166.0,218.5 L166.5,218.8 L167.0,218.9 L167.5,219.0 L168.0,219.2 L168.5,219.2 L169.0,219.3 L169.5,219.4 L170.0,219.4 L170.5,219.7 L171.0,219.8 L171.5,219.9 L172.0,219.9 L172.5,220.0 L173.0,220.0 L173.5,220.2 L174.0,220.2 L174.5,220.2 L175.0,220.3 L175.5,220.3 L176.0,220.3 L176.5,220.4 L177.0,220.5 L177.5,220.4 L178.0,220.6 L178.5,220.6 L179.0,220.6 L179.5,220.8 L180.0,220.8 L180.5,221.0 L181.0,220.8 L181.5,221.0 L182.0,221.0 L182.5,221.0 L183.0,221.0 L183.5,221.2 L184.0,221.2 L184.5,221.2 L185.0,221.2 L185.5,221.4 L186.0,221.5 L186.5,221.4 L187.0,221.5 L187.5,221.6 L188.0,221.6 L188.5,221.5 L189.0,221.6 L189.5,221.7 L190.0,221.8 L190.5,221.7 L191.0,221.8 L191.5,221.8 L192.0,221.8 L192.5,221.7 L193.0,221.8 L193.5,222.0 L194.0,221.8 L194.5,221.9 L195.0,221.9 L195.5,222.0 L196.0,222.0 L196.5,222.1 L197.0,222.0 L197.5,222.0 L198.0,222.0 L198.5,222.1 L199.0,222.1 L199.5,222.3 L200.0,222.1 L200.5,222.3 L201.0,222.2 L201.5,222.2 L202.0,222.3 L202.5,222.3 L203.0,222.3 L203.5,222.2 L204.0,222.5 L204.5,222.5 L205.0,222.3 L205.5,222.3 L206.0,222.3 L206.5,222.4 L207.0,222.4 L207.5,222.5 L208.0,222.4 L208.5,222.7 L209.0,222.5 L209.5,222.5 L210.0,222.7 L210.5,222.5 L211.0,222.5 L211.5,222.5 L212.0,222.6 L212.5,222.5 L213.0,222.6 L213.5,222.5 L214.0,222.5 L214.5,222.6 L215.0,222.6 L215.5,222.7 L216.0,222.6 L216.5,222.6 L217.0,222.6 L217.5,222.7 L218.0,222.5 L218.5,222.6 L219.0,222.5 L219.5,222.5 L220.0,222.6 L220.5,222.7 L221.0,222.7 L221.5,222.7 L222.0,222.8 L222.5,222.8 L223.0,222.8 L223.5,222.7 L224.0,222.9 L224.5,222.9 L225.0,222.7 L225.5,222.7 L226.0,222.8 L226.5,222.9 L227.0,222.8 L227.5,222.9 L228.0,222.7 L228.5,222.8 L229.0,222.9 L229.5,222.8 L230.0,222.9 L230.5,222.9 L231.0,222.9 L231.5,222.8 L232.0,222.9 L232.5,222.9 L233.0,223.0 L233.5,223.0 L234.0,223.1 L234.5,223.0 L235.0,223.0 L235.5,223.2 L236.0,223.1 L236.5,223.1 L237.0,223.1 L237.5,223.2 L238.0,223.2 L238.5,223.1 L239.0,223.2 L239.5,223.1 L240.0,223.2 L240.5,223.3 L241.0,223.1 L241.5,223.3 L242.0,223.1 L242.5,223.2 L243.0,223.3 L243.5,223.2 L244.0,223.2 L244.5,223.2 L245.0,223.3 L245.5,223.3 L246.0,223.4 L246.5,223.3 L247.0,223.4 L247.5,223.3 L248.0,223.5 L248.5,223.3 L249.0,223.3 L249.5,223.4 L250.0,223.4 L250.5,223.4 L251.0,223.3 L251.5,223.5 L252.0,223.5 L252.5,223.4 L253.0,223.3 L253.5,223.5 L254.0,223.5 L254.5,223.3 L255.0,223.4 L255.5,223.5 L256.0,223.4 L256.5,223.4 L257.0,223.4 L257.5,223.5 L258.0,223.5 L258.5,223.5 L259.0,223.5 L259.5,223.4 L260.0,223.2 L260.5,223.4 L261.0,223.4 L261.5,223.4 L262.0,223.2 L262.5,223.4 L263.0,223.1 L263.5,223.2 L264.0,223.1 L264.5,223.1 L265.0,223.0 L265.5,222.8 L266.0,222.6 L266.5,222.3 L267.0,222.2 L267.5,221.8 L268.0,221.5 L268.5,220.9 L269.0,220.4 L269.5,220.1 L270.0,219.7 L270.5,219.4 L271.0,219.4 L271.5,219.8 L272.0,220.2 L272.5,220.7 L273.0,221.3 L273.5,221.6 L274.0,222.0 L274.5,222.4 L275.0,222.6 L275.5,223.0 L276.0,222.9 L276.5,223.1 L277.0,223.1 L277.5,223.3 L278.0,223.4 L278.5,223.5 L279.0,223.6 L279.5,223.6 L280.0,223.7 L280.5,223.6 L281.0,223.7 L281.5,223.9 L282.0,223.9 L282.5,223.9 L283.0,223.8 L283.5,223.8 L284.0,224.1 L284.5,224.0 L285.0,224.0 L285.5,224.0 L286.0,224.1 L286.5,224.0 L287.0,224.1 L287.5,224.1 L288.0,224.0 L288.5,224.2 L289.0,224.1 L289.5,224.1 L290.0,224.0 L290.5,224.0 L291.0,224.1 L291.5,224.1 L292.0,224.2 L292.5,224.1 L293.0,224.1 L293.5,224.1 L294.0,224.1 L294.5,224.1 L295.0,224.1 L295.5,224.1 L296.0,224.1 L296.5,224.0 L297.0,224.0 L297.5,224.2 L298.0,224.1 L298.5,224.1 L299.0,224.1 L299.5,224.1 L300.0,224.2 L300.5,224.1 L301.0,224.0 L301.5,224.0 L302.0,224.1 L302.5,224.0 L303.0,224.2 L303.5,224.1 L304.0,223.9 L304.5,224.0 L305.0,224.2 L305.5,224.1 L306.0,224.2 L306.5,224.0 L307.0,224.1 L307.5,224.2 L308.0,224.2 L308.5,224.0 L309.0,224.1 L309.5,223.9 L310.0,224.0 L310.5,223.9 L311.0,224.0 L311.5,223.9 L312.0,223.9 L312.5,224.1 L313.0,224.0 L313.5,224.0 L314.0,223.8 L314.5,224.0 L315.0,223.8 L315.5,223.9 L316.0,224.0 L316.5,224.0 L317.0,223.9 L317.5,224.0 L318.0,223.9 L318.5,223.8 L319.0,223.9 L319.5,224.0 L320.0,223.9 L320.5,223.9 L321.0,223.9 L321.5,223.7 L322.0,223.8 L322.5,223.7 L323.0,223.9 L323.5,223.8 L324.0,223.7 L324.5,223.7 L325.0,223.9 L325.5,223.9 L326.0,223.8 L326.5,223.8 L327.0,223.8 L327.5,223.8 L328.0,223.8 L328.5,223.7 L329.0,223.7 L329.5,223.7 L330.0,223.7 L330.5,223.9 L331.0,223.6 L331.5,223.6 L332.0,223.8 L332.5,223.7 L333.0,223.6 L333.5,223.6 L334.0,223.6 L334.5,223.7 L335.0,223.9 L335.5,223.6 L336.0,223.7 L336.5,223.6 L337.0,223.6 L337.5,223.7 L338.0,223.6 L338.5,223.5 L339.0,223.5 L339.5,223.7 L340.0,223.6 L340.5,223.6 L341.0,223.6 L341.5,223.5 L342.0,223.7 L342.5,223.5 L343.0,223.5 L343.5,223.5 L344.0,223.5 L344.5,223.7 L345.0,223.5 L345.5,223.5 L346.0,223.6 L346.5,223.5 L347.0,223.4 L347.5,223.5 L348.0,223.5 L348.5,223.4 L349.0,223.5 L349.5,223.5 L350.0,223.6 L350.5,223.5 L351.0,223.5 L351.5,223.4 L352.0,223.4 L352.5,223.3 L353.0,223.4 L353.5,223.3 L354.0,223.4 L354.5,223.6 L355.0,223.4 L355.5,223.4 L356.0,223.3 L356.5,223.2 L357.0,223.4 L357.5,223.4 L358.0,223.4 L358.5,223.4 L359.0,223.4 L359.5,223.3 L360.0,223.4 L360.5,223.4 L361.0,223.3 L361.5,223.3 L362.0,223.3 L362.5,223.3 L363.0,223.2 L363.5,223.1 L364.0,223.2 L364.5,223.3 L365.0,223.1 L365.5,223.1 L366.0,223.0 L366.5,223.0 L367.0,222.9 L367.5,222.9 L368.0,222.8 L368.5,222.7 L369.0,222.8 L369.5,222.6 L370.0,222.4 L370.5,222.3 L371.0,222.3 L371.5,222.1 L372.0,221.9 L372.5,221.6 L373.0,221.4 L373.5,220.9 L374.0,220.6 L374.5,220.3 L375.0,219.7 L375.5,219.1 L376.0,218.4 L376.5,217.6 L377.0,217.1 L377.5,216.5 L378.0,216.3 L378.5,216.1 L379.0,216.4 L379.5,216.9 L380.0,217.5 L380.5,218.4 L381.0,219.1 L381.5,219.6 L382.0,220.0 L382.5,220.6 L383.0,221.0 L383.5,221.3 L384.0,221.5 L384.5,222.0 L385.0,222.0 L385.5,222.3 L386.0,222.4 L386.5,222.5 L387.0,222.7 L387.5,222.7 L388.0,222.8 L388.5,222.9 L389.0,223.1 L389.5,223.1 L390.0,223.1 L390.5,223.0 L391.0,223.3 L391.5,223.2 L392.0,223.3 L392.5,223.2 L393.0,223.3 L393.5,223.4 L394.0,223.4 L394.5,223.5 L395.0,223.5 L395.5,223.6 L396.0,223.4 L396.5,223.4 L397.0,223.3 L397.5,223.5 L398.0,223.4 L398.5,223.6 L399.0,223.4 L399.5,223.7 L400.0,223.6 L400.5,223.5 L401.0,223.6 L401.5,223.7 L402.0,223.7 L402.5,223.6 L403.0,223.7 L403.5,223.7 L404.0,223.6 L404.5,223.7 L405.0,223.6 L405.5,223.8 L406.0,223.6 L406.5,223.7 L407.0,223.6 L407.5,223.8 L408.0,223.7 L408.5,223.7 L409.0,223.8 L409.5,223.7 L410.0,223.8 L410.5,223.8 L411.0,223.8 L411.5,223.8 L412.0,223.6 L412.5,223.8 L413.0,223.8 L413.5,223.7 L414.0,223.8 L414.5,223.9 L415.0,223.9 L415.5,223.9 L416.0,223.9 L416.5,223.8 L417.0,224.0 L417.5,223.8 L418.0,223.8 L418.5,224.0 L419.0,223.8 L419.5,223.9 L420.0,223.8 L420.5,224.0 L421.0,224.0 L421.5,223.8 L422.0,223.9 L422.5,223.9 L423.0,223.9 L423.5,223.9 L424.0,223.9 L424.5,223.9 L425.0,223.8 L425.5,223.9 L426.0,224.0 L426.5,224.0 L427.0,224.0 L427.5,224.0 L428.0,223.9 L428.5,224.1 L429.0,223.9 L429.5,224.0 L430.0,223.9 L430.5,223.9 L431.0,224.1 L431.5,224.0 L432.0,223.9 L432.5,224.0 L433.0,223.9 L433.5,224.1 L434.0,223.9 L434.5,224.0 L435.0,224.0 L435.5,224.0 L436.0,224.1 L436.5,224.1 L437.0,224.1 L437.5,224.0 L438.0,224.0 L438.5,224.1 L439.0,224.0 L439.5,224.1 L440.0,223.9 L440.5,224.1 L441.0,223.9 L441.5,224.0 L442.0,223.9 L442.5,223.9 L443.0,224.1 L443.5,224.0 L444.0,224.0 L444.5,224.0 L445.0,224.0 L445.5,224.0 L446.0,224.1 L446.5,224.1 L447.0,224.1 L447.5,224.1 L448.0,224.1 L448.5,224.0 L449.0,224.1 L449.5,224.0 L450.0,224.0 L450.5,224.1 L451.0,224.1 L451.5,224.1 L452.0,224.0 L452.5,224.1 L453.0,224.3 L453.5,224.1 L454.0,224.2 L454.5,224.1 L455.0,224.2 L455.5,224.1 L456.0,224.3 L456.5,224.1 L457.0,224.1 L457.5,224.2 L458.0,224.0 L458.5,224.1 L459.0,224.1 L459.5,224.1 L460.0,224.3 L460.5,224.0 L461.0,224.3 L461.5,224.2 L462.0,224.2 L462.5,224.1 L463.0,224.0 L463.5,224.0 L464.0,224.2 L464.5,224.1 L465.0,224.1 L465.5,224.1 L466.0,224.2 L466.5,224.2 L467.0,224.1 L467.5,224.0 L468.0,224.1 L468.5,223.9 L469.0,223.9 L469.5,223.8 L470.0,223.8 L470.5,223.7 L471.0,223.8 L471.5,223.7 L472.0,223.7 L472.5,223.5 L473.0,223.4 L473.5,223.2 L474.0,223.1 L474.5,223.0 L475.0,222.7 L475.5,222.6 L476.0,222.4 L476.5,222.3 L477.0,222.3 L477.5,222.5 L478.0,222.5 L478.5,222.7 L479.0,223.1 L479.5,223.2 L480.0,223.2 L480.5,223.4 L481.0,223.6 L481.5,223.6 L482.0,223.8 L482.5,223.8 L483.0,223.9 L483.5,224.1 L484.0,224.2 L484.5,224.2 L485.0,224.1 L485.5,224.2 L486.0,224.2 L486.5,224.4 L487.0,224.3 L487.5,224.3 L488.0,224.4 L488.5,224.4 L489.0,224.3 L489.5,224.3 L490.0,224.3 L490.5,224.3 L491.0,224.5 L491.5,224.4 L492.0,224.5 L492.5,224.4 L493.0,224.4 L493.5,224.5 L494.0,224.5 L494.5,224.5 L495.0,224.5 L495.5,224.5 L496.0,224.4 L496.5,224.5 L497.0,224.5 L497.5,224.5 L498.0,224.5 L498.5,224.4 L499.0,224.4 L499.5,224.5 L500.0,224.7 L500.5,224.6 L501.0,224.5 L501.5,224.7 L502.0,224.6 L502.5,224.6 L503.0,224.6 L503.5,224.7 L504.0,224.7 L504.5,224.6 L505.0,224.6 L505.5,224.7 L506.0,224.6 L506.5,224.6 L507.0,224.7 L507.5,224.6 L508.0,224.6 L508.5,224.7 L509.0,224.7 L509.5,224.8 L510.0,224.7 L510.5,224.8 L511.0,224.8 L511.5,224.7 L512.0,224.8 L512.5,224.8 L513.0,224.7 L513.5,224.7 L514.0,224.7 L514.5,224.9 L515.0,224.8 L515.5,224.7 L516.0,224.7 L516.5,224.8 L517.0,224.7 L517.5,224.9 L518.0,224.8 L518.5,224.7 L519.0,224.9 L519.5,224.9 L520.0,224.9 L520.5,224.8 L521.0,224.9 L521.5,224.9 L522.0,224.9 L522.5,225.0 L523.0,225.0 L523.5,224.9 L524.0,225.0 L524.5,225.0 L525.0,224.9 L525.5,225.0 L526.0,225.0 L526.5,225.1 L527.0,225.0 L527.5,224.9 L528.0,225.0 L528.5,225.0 L529.0,224.9 L529.5,224.9 L530.0,225.0 L530.5,225.0 L531.0,225.1 L531.5,225.0 L532.0,224.9 L532.5,224.9 L533.0,225.0 L533.5,225.0 L534.0,225.1 L534.5,225.1 L535.0,225.0 L535.5,225.2" stroke-width="1.7"/>
<path d="M37.0,240.9 L37.5,241.0 L38.0,241.0 L38.5,240.8 L39.0,241.3 L39.5,241.0 L40.0,241.2 L40.5,241.0 L41.0,241.0 L41.5,241.1 L42.0,241.1 L42.5,241.0 L43.0,241.0 L43.5,241.3 L44.0,241.2 L44.5,241.3 L45.0,241.5 L45.5,241.3 L46.0,241.4 L46.5,241.5 L47.0,241.5 L47.5,241.5 L48.0,241.4 L48.5,241.5 L49.0,241.7 L49.5,241.6 L50.0,241.8 L50.5,241.8 L51.0,241.8 L51.5,241.9 L52.0,241.8 L52.5,242.0 L53.0,241.7 L53.5,241.9 L54.0,242.0 L54.5,242.2 L55.0,241.9 L55.5,242.0 L56.0,242.2 L56.5,242.3 L57.0,242.2 L57.5,242.1 L58.0,242.3 L58.5,242.4 L59.0,242.4 L59.5,242.5 L60.0,242.5 L60.5,242.4 L61.0,242.6 L61.5,242.7 L62.0,242.6 L62.5,242.6 L63.0,242.7 L63.5,242.8 L64.0,242.7 L64.5,243.0 L65.0,242.9 L65.5,242.9 L66.0,243.1 L66.5,243.0 L67.0,243.3 L67.5,243.2 L68.0,243.1 L68.5,243.1 L69.0,243.0 L69.5,243.3 L70.0,243.3 L70.5,243.3 L71.0,243.2 L71.5,243.5 L72.0,243.5 L72.5,243.3 L73.0,243.3 L73.5,243.3 L74.0,243.4 L74.5,243.2 L75.0,243.1 L75.5,243.0 L76.0,243.0 L76.5,243.2 L77.0,243.2 L77.5,243.7 L78.0,243.7 L78.5,243.9 L79.0,243.9 L79.5,244.0 L80.0,244.0 L80.5,244.2 L81.0,244.3 L81.5,244.4 L82.0,244.6 L82.5,244.6 L83.0,244.5 L83.5,244.6 L84.0,244.8 L84.5,244.6 L85.0,244.8 L85.5,245.0 L86.0,245.0 L86.5,245.0 L87.0,245.2 L87.5,245.1 L88.0,245.2 L88.5,245.3 L89.0,245.3 L89.5,245.5 L90.0,245.6 L90.5,245.6 L91.0,245.3 L91.5,245.6 L92.0,245.7 L92.5,245.7 L93.0,245.7 L93.5,245.7 L94.0,245.8 L94.5,245.7 L95.0,245.7 L95.5,245.9 L96.0,245.9 L96.5,245.8 L97.0,246.0 L97.5,245.9 L98.0,246.0 L98.5,245.9 L99.0,246.0 L99.5,246.0 L100.0,246.0 L100.5,246.1 L101.0,246.1 L101.5,245.9 L102.0,246.2 L102.5,245.9 L103.0,245.8 L103.5,245.9 L104.0,246.0 L104.5,245.7 L105.0,245.5 L105.5,245.5 L106.0,245.5 L106.5,245.4 L107.0,245.2 L107.5,245.1 L108.0,245.0 L108.5,244.7 L109.0,244.5 L109.5,244.2 L110.0,244.0 L110.5,243.9 L111.0,243.5 L111.5,243.1 L112.0,242.9 L112.5,242.6 L113.0,242.0 L113.5,241.5 L114.0,240.7 L114.5,239.7 L115.0,239.3 L115.5,239.0 L116.0,239.1 L116.5,239.1 L117.0,239.0 L117.5,238.8 L118.0,238.2 L118.5,238.1 L119.0,237.6 L119.5,237.2 L120.0,236.6 L120.5,235.9 L121.0,235.7 L121.5,235.3 L122.0,234.8 L122.5,234.3 L123.0,233.8 L123.5,233.5 L124.0,233.1 L124.5,232.8 L125.0,232.7 L125.5,232.5 L126.0,232.3 L126.5,232.1 L127.0,232.0 L127.5,231.9 L128.0,231.8 L128.5,231.6 L129.0,231.6 L129.5,231.4 L130.0,231.2 L130.5,231.0 L131.0,230.7 L131.5,230.3 L132.0,229.9 L132.5,229.2 L133.0,228.4 L133.5,227.4 L134.0,226.1 L134.5,224.7 L135.0,223.3 L135.5,221.7 L136.0,219.2 L136.5,216.5 L137.0,213.3 L137.5,209.4 L138.0,204.7 L138.5,199.9 L139.0,196.1 L139.5,195.1 L140.0,197.7 L140.5,202.3 L141.0,207.7 L141.5,212.5 L142.0,216.6 L142.5,220.0 L143.0,222.7 L143.5,225.2 L144.0,227.5 L144.5,229.1 L145.0,230.9 L145.5,232.4 L146.0,233.7 L146.5,234.7 L147.0,235.9 L147.5,236.6 L148.0,237.6 L148.5,238.2 L149.0,238.9 L149.5,239.5 L150.0,240.2 L150.5,240.4 L151.0,241.0 L151.5,241.3 L152.0,241.8 L152.5,242.1 L153.0,242.3 L153.5,242.6 L154.0,242.8 L154.5,243.2 L155.0,243.5 L155.5,243.5 L156.0,243.8 L156.5,243.8 L157.0,244.3 L157.5,244.2 L158.0,244.5 L158.5,244.5 L159.0,244.8 L159.5,244.8 L160.0,244.9 L160.5,244.9 L161.0,245.3 L161.5,245.1 L162.0,245.5 L162.5,245.5 L163.0,245.7 L163.5,245.5 L164.0,245.6 L164.5,245.7 L165.0,245.9 L165.5,245.7 L166.0,246.0 L166.5,245.8 L167.0,246.1 L167.5,246.1 L168.0,246.1 L168.5,246.1 L169.0,246.3 L169.5,246.1 L170.0,246.4 L170.5,246.3 L171.0,246.3 L171.5,246.3 L172.0,246.5 L172.5,246.5 L173.0,246.5 L173.5,246.5 L174.0,246.8 L174.5,246.6 L175.0,246.8 L175.5,246.7 L176.0,246.9 L176.5,247.0 L177.0,247.0 L177.5,247.1 L178.0,247.1 L178.5,246.8 L179.0,247.0 L179.5,247.0 L180.0,247.2 L180.5,247.3 L181.0,247.2 L181.5,247.5 L182.0,247.4 L182.5,247.6 L183.0,247.4 L183.5,247.6 L184.0,247.7 L184.5,247.6 L185.0,247.7 L185.5,247.7 L186.0,247.7 L186.5,247.9 L187.0,247.7 L187.5,248.0 L188.0,248.0 L188.5,247.9 L189.0,248.1 L189.5,247.9 L190.0,248.1 L190.5,248.3 L191.0,248.3 L191.5,248.2 L192.0,248.5 L192.5,248.4 L193.0,248.4 L193.5,248.5 L194.0,248.6 L194.5,248.6 L195.0,248.5 L195.5,248.6 L196.0,248.8 L196.5,248.9 L197.0,248.8 L197.5,248.9 L198.0,249.0 L198.5,248.8 L199.0,249.0 L199.5,249.2 L200.0,249.1 L200.5,249.2 L201.0,249.1 L201.5,249.5 L202.0,249.2 L202.5,249.4 L203.0,249.4 L203.5,249.3 L204.0,249.5 L204.5,249.6 L205.0,249.5 L205.5,249.7 L206.0,249.6 L206.5,249.8 L207.0,250.0 L207.5,249.7 L208.0,249.9 L208.5,249.8 L209.0,249.8 L209.5,250.0 L210.0,250.0 L210.5,250.1 L211.0,250.1 L211.5,249.9 L212.0,250.1 L212.5,250.0 L213.0,250.2 L213.5,250.3 L214.0,250.3 L214.5,250.2 L215.0,250.4 L215.5,250.4 L216.0,250.4 L216.5,250.4 L217.0,250.4 L217.5,250.6 L218.0,250.5 L218.5,250.6 L219.0,250.6 L219.5,250.7 L220.0,250.7 L220.5,250.6 L221.0,250.7 L221.5,250.7 L222.0,250.8 L222.5,250.8 L223.0,250.7 L223.5,251.0 L224.0,250.8 L224.5,250.9 L225.0,250.8 L225.5,250.9 L226.0,251.0 L226.5,251.0 L227.0,251.0 L227.5,251.1 L228.0,251.0 L228.5,251.2 L229.0,251.0 L229.5,251.2 L230.0,251.2 L230.5,251.1 L231.0,251.2 L231.5,251.1 L232.0,251.3 L232.5,251.2 L233.0,251.3 L233.5,251.3 L234.0,251.3 L234.5,251.3 L235.0,251.3 L235.5,251.4 L236.0,251.5 L236.5,251.4 L237.0,251.3 L237.5,251.4 L238.0,251.5 L238.5,251.3 L239.0,251.5 L239.5,251.4 L240.0,251.5 L240.5,251.3 L241.0,251.5 L241.5,251.4 L242.0,251.5 L242.5,251.7 L243.0,251.5 L243.5,251.7 L244.0,251.5 L244.5,251.6 L245.0,251.7 L245.5,251.6 L246.0,251.5 L246.5,251.2 L247.0,251.4 L247.5,251.5 L248.0,251.4 L248.5,251.3 L249.0,251.4 L249.5,251.2 L250.0,251.3 L250.5,251.4 L251.0,251.5 L251.5,251.2 L252.0,251.3 L252.5,251.3 L253.0,251.1 L253.5,251.1 L254.0,251.2 L254.5,251.0 L255.0,251.0 L255.5,251.2 L256.0,250.8 L256.5,251.1 L257.0,251.0 L257.5,250.8 L258.0,250.9 L258.5,250.7 L259.0,250.6 L259.5,250.5 L260.0,250.5 L260.5,250.6 L261.0,250.3 L261.5,250.2 L262.0,250.2 L262.5,250.1 L263.0,250.3 L263.5,250.0 L264.0,249.8 L264.5,249.7 L265.0,249.6 L265.5,249.4 L266.0,249.4 L266.5,249.1 L267.0,248.9 L267.5,248.8 L268.0,248.5 L268.5,248.1 L269.0,247.5 L269.5,247.2 L270.0,246.9 L270.5,246.8 L271.0,246.8 L271.5,247.1 L272.0,247.6 L272.5,247.9 L273.0,248.6 L273.5,248.9 L274.0,249.3 L274.5,249.6 L275.0,249.8 L275.5,250.0 L276.0,250.4 L276.5,250.4 L277.0,251.0 L277.5,250.6 L278.0,250.7 L278.5,251.0 L279.0,250.9 L279.5,251.0 L280.0,251.0 L280.5,251.2 L281.0,251.2 L281.5,251.4 L282.0,251.3 L282.5,251.4 L283.0,251.5 L283.5,251.5 L284.0,251.4 L284.5,251.4 L285.0,251.4 L285.5,251.4 L286.0,251.7 L286.5,251.6 L287.0,251.6 L287.5,251.7 L288.0,251.7 L288.5,251.8 L289.0,251.7 L289.5,251.7 L290.0,251.6 L290.5,251.8 L291.0,251.7 L291.5,251.7 L292.0,251.7 L292.5,251.8 L293.0,251.8 L293.5,251.7 L294.0,251.8 L294.5,251.8 L295.0,251.7 L295.5,251.9 L296.0,251.7 L296.5,251.8 L297.0,251.6 L297.5,251.8 L298.0,251.7 L298.5,251.7 L299.0,251.7 L299.5,251.7 L300.0,251.6 L300.5,251.5 L301.0,251.6 L301.5,251.6 L302.0,251.5 L302.5,251.6 L303.0,251.6 L303.5,251.4 L304.0,251.5 L304.5,251.5 L305.0,251.2 L305.5,251.2 L306.0,251.1 L306.5,251.4 L307.0,251.2 L307.5,251.1 L308.0,251.2 L308.5,251.2 L309.0,251.1 L309.5,251.1 L310.0,251.1 L310.5,251.2 L311.0,250.7 L311.5,250.7 L312.0,250.7 L312.5,250.8 L313.0,250.6 L313.5,250.8 L314.0,250.5 L314.5,250.8 L315.0,250.7 L315.5,250.8 L316.0,250.8 L316.5,250.7 L317.0,250.8 L317.5,250.6 L318.0,250.8 L318.5,250.9 L319.0,251.1 L319.5,251.0 L320.0,250.8 L320.5,251.3 L321.0,251.0 L321.5,251.1 L322.0,251.0 L322.5,250.8 L323.0,251.3 L323.5,251.2 L324.0,251.3 L324.5,251.2 L325.0,251.4 L325.5,251.5 L326.0,251.4 L326.5,251.3 L327.0,251.3 L327.5,251.4 L328.0,251.3 L328.5,251.4 L329.0,251.5 L329.5,251.3 L330.0,251.3 L330.5,251.6 L331.0,251.4 L331.5,251.6 L332.0,251.5 L332.5,251.5 L333.0,251.5 L333.5,251.6 L334.0,251.6 L334.5,251.5 L335.0,251.3 L335.5,251.4 L336.0,251.5 L336.5,251.4 L337.0,251.5 L337.5,251.5 L338.0,251.5 L338.5,251.5 L339.0,251.5 L339.5,251.5 L340.0,251.5 L340.5,251.4 L341.0,251.5 L341.5,251.5 L342.0,251.6 L342.5,251.4 L343.0,251.4 L343.5,251.6 L344.0,251.5 L344.5,251.6 L345.0,251.6 L345.5,251.4 L346.0,251.6 L346.5,251.5 L347.0,251.3 L347.5,251.5 L348.0,251.5 L348.5,251.5 L349.0,251.4 L349.5,251.4 L350.0,251.3 L350.5,251.5 L351.0,251.2 L351.5,251.4 L352.0,251.4 L352.5,251.4 L353.0,251.4 L353.5,251.4 L354.0,251.2 L354.5,251.2 L355.0,251.2 L355.5,251.3 L356.0,251.3 L356.5,251.3 L357.0,251.4 L357.5,251.4 L358.0,251.3 L358.5,251.2 L359.0,251.3 L359.5,251.3 L360.0,251.5 L360.5,251.4 L361.0,251.2 L361.5,251.3 L362.0,251.4 L362.5,251.3 L363.0,251.3 L363.5,251.2 L364.0,251.2 L364.5,251.2 L365.0,251.1 L365.5,251.0 L366.0,251.0 L366.5,251.1 L367.0,251.0 L367.5,250.8 L368.0,251.0 L368.5,250.8 L369.0,250.8 L369.5,250.6 L370.0,250.5 L370.5,250.2 L371.0,250.3 L371.5,249.9 L372.0,249.9 L372.5,249.9 L373.0,249.4 L373.5,249.1 L374.0,248.7 L374.5,248.3 L375.0,247.6 L375.5,247.2 L376.0,246.6 L376.5,245.8 L377.0,245.1 L377.5,244.5 L378.0,244.3 L378.5,244.3 L379.0,244.6 L379.5,245.2 L380.0,245.6 L380.5,246.5 L381.0,246.9 L381.5,247.9 L382.0,248.3 L382.5,248.7 L383.0,249.0 L383.5,249.4 L384.0,249.7 L384.5,249.9 L385.0,250.1 L385.5,250.4 L386.0,250.4 L386.5,250.8 L387.0,250.8 L387.5,250.8 L388.0,250.9 L388.5,250.9 L389.0,250.9 L389.5,251.1 L390.0,251.0 L390.5,251.3 L391.0,251.3 L391.5,251.0 L392.0,251.3 L392.5,251.2 L393.0,251.5 L393.5,251.3 L394.0,251.4 L394.5,251.5 L395.0,251.3 L395.5,251.5 L396.0,251.6 L396.5,251.4 L397.0,251.6 L397.5,251.5 L398.0,251.7 L398.5,251.7 L399.0,251.6 L399.5,251.5 L400.0,251.6 L400.5,251.6 L401.0,251.6 L401.5,251.6 L402.0,251.8 L402.5,251.9 L403.0,251.7 L403.5,251.5 L404.0,251.5 L404.5,251.7 L405.0,251.6 L405.5,251.6 L406.0,251.7 L406.5,251.6 L407.0,251.8 L407.5,251.6 L408.0,251.7 L408.5,251.6 L409.0,251.7 L409.5,251.5 L410.0,251.7 L410.5,251.8 L411.0,251.7 L411.5,251.8 L412.0,251.7 L412.5,251.8 L413.0,251.7 L413.5,251.8 L414.0,251.7 L414.5,251.8 L415.0,251.9 L415.5,251.7 L416.0,251.9 L416.5,251.9 L417.0,251.8 L417.5,251.6 L418.0,252.0 L418.5,251.7 L419.0,251.8 L419.5,251.9 L420.0,252.0 L420.5,251.8 L421.0,251.8 L421.5,251.9 L422.0,252.0 L422.5,251.8 L423.0,251.9 L423.5,251.9 L424.0,251.9 L424.5,251.8 L425.0,251.9 L425.5,251.9 L426.0,252.1 L426.5,251.7 L427.0,252.1 L427.5,251.9 L428.0,251.8 L428.5,251.8 L429.0,252.0 L429.5,251.7 L430.0,252.1 L430.5,251.8 L431.0,252.0 L431.5,251.8 L432.0,251.8 L432.5,251.9 L433.0,252.1 L433.5,252.0 L434.0,252.0 L434.5,252.1 L435.0,252.1 L435.5,251.9 L436.0,252.0 L436.5,252.0 L437.0,251.9 L437.5,251.8 L438.0,252.1 L438.5,252.1 L439.0,252.0 L439.5,252.4 L440.0,251.9 L440.5,252.0 L441.0,252.1 L441.5,252.0 L442.0,252.0 L442.5,252.2 L443.0,251.9 L443.5,251.8 L444.0,252.0 L444.5,252.0 L445.0,252.0 L445.5,252.0 L446.0,252.1 L446.5,252.3 L447.0,252.1 L447.5,252.3 L448.0,252.1 L448.5,252.1 L449.0,251.9 L449.5,252.1 L450.0,252.2 L450.5,252.4 L451.0,252.0 L451.5,252.1 L452.0,252.1 L452.5,252.1 L453.0,252.2 L453.5,252.1 L454.0,252.2 L454.5,252.1 L455.0,252.1 L455.5,252.2 L456.0,252.3 L456.5,252.1 L457.0,252.0 L457.5,252.2 L458.0,252.2 L458.5,252.2 L459.0,252.3 L459.5,252.1 L460.0,252.2 L460.5,252.2 L461.0,252.4 L461.5,252.3 L462.0,252.2 L462.5,252.2 L463.0,252.3 L463.5,252.1 L464.0,252.4 L464.5,252.3 L465.0,252.3 L465.5,252.3 L466.0,252.2 L466.5,252.3 L467.0,252.2 L467.5,252.3 L468.0,252.0 L468.5,252.3 L469.0,252.1 L469.5,252.2 L470.0,252.1 L470.5,252.0 L471.0,252.0 L471.5,251.9 L472.0,251.9 L472.5,251.6 L473.0,251.5 L473.5,251.7 L474.0,251.5 L474.5,251.2 L475.0,251.3 L475.5,251.0 L476.0,251.0 L476.5,250.9 L477.0,251.1 L477.5,251.1 L478.0,251.2 L478.5,251.1 L479.0,251.3 L479.5,251.4 L480.0,251.7 L480.5,251.8 L481.0,251.8 L481.5,252.0 L482.0,252.1 L482.5,252.2 L483.0,252.2 L483.5,252.3 L484.0,252.5 L484.5,252.2 L485.0,252.5 L485.5,252.3 L486.0,252.5 L486.5,252.4 L487.0,252.6 L487.5,252.6 L488.0,252.7 L488.5,252.5 L489.0,252.7 L489.5,252.7 L490.0,252.8 L490.5,252.6 L491.0,252.9 L491.5,252.8 L492.0,252.8 L492.5,252.8 L493.0,252.8 L493.5,252.9 L494.0,252.8 L494.5,252.6 L495.0,252.8 L495.5,252.9 L496.0,252.8 L496.5,252.8 L497.0,252.7 L497.5,252.9 L498.0,252.8 L498.5,253.0 L499.0,253.0 L499.5,253.1 L500.0,253.0 L500.5,253.0 L501.0,252.9 L501.5,253.2 L502.0,252.8 L502.5,252.9 L503.0,253.2 L503.5,252.9 L504.0,252.9 L504.5,252.9 L505.0,253.1 L505.5,253.1 L506.0,253.1 L506.5,253.0 L507.0,253.0 L507.5,253.1 L508.0,253.0 L508.5,253.1 L509.0,253.0 L509.5,253.2 L510.0,253.1 L510.5,253.1 L511.0,253.1 L511.5,252.9 L512.0,253.3 L512.5,253.1 L513.0,253.2 L513.5,253.2 L514.0,253.3 L514.5,253.2 L515.0,253.4 L515.5,253.3 L516.0,253.2 L516.5,253.2 L517.0,253.5 L517.5,253.2 L518.0,253.2 L518.5,253.1 L519.0,253.3 L519.5,253.3 L520.0,253.4 L520.5,253.2 L521.0,253.2 L521.5,253.5 L522.0,253.0 L522.5,253.3 L523.0,253.2 L523.5,253.4 L524.0,253.3 L524.5,253.4 L525.0,253.3 L525.5,253.4 L526.0,253.3 L526.5,253.4 L527.0,253.4 L527.5,253.4 L528.0,253.5 L528.5,253.5 L529.0,253.7 L529.5,253.3 L530.0,253.5 L530.5,253.5 L531.0,253.5 L531.5,253.6 L532.0,253.7 L532.5,253.7 L533.0,253.4 L533.5,253.4 L534.0,253.4 L534.5,253.5 L535.0,253.4 L535.5,253.5" stroke-width="1.7"/>
<path d="M37.0,267.9 L37.5,268.1 L38.0,268.2 L38.5,268.4 L39.0,268.2 L39.5,268.2 L40.0,268.4 L40.5,268.2 L41.0,268.5 L41.5,268.3 L42.0,268.4 L42.5,268.3 L43.0,268.4 L43.5,268.3 L44.0,268.3 L44.5,268.5 L45.0,268.6 L45.5,268.3 L46.0,268.5 L46.5,268.7 L47.0,268.5 L47.5,268.8 L48.0,268.7 L48.5,268.5 L49.0,268.6 L49.5,268.9 L50.0,268.9 L50.5,268.8 L51.0,268.8 L51.5,268.4 L52.0,268.8 L52.5,268.6 L53.0,268.9 L53.5,268.9 L54.0,268.9 L54.5,269.1 L55.0,269.0 L55.5,268.9 L56.0,269.0 L56.5,269.3 L57.0,269.5 L57.5,269.0 L58.0,269.3 L58.5,269.4 L59.0,269.4 L59.5,269.3 L60.0,269.5 L60.5,269.7 L61.0,269.4 L61.5,269.3 L62.0,269.3 L62.5,269.6 L63.0,269.8 L63.5,269.6 L64.0,269.6 L64.5,269.6 L65.0,270.0 L65.5,269.6 L66.0,269.9 L66.5,269.7 L67.0,270.0 L67.5,270.0 L68.0,270.1 L68.5,270.0 L69.0,269.9 L69.5,270.0 L70.0,270.0 L70.5,270.3 L71.0,270.2 L71.5,270.0 L72.0,270.3 L72.5,270.2 L73.0,270.1 L73.5,270.3 L74.0,270.4 L74.5,270.4 L75.0,270.4 L75.5,270.4 L76.0,270.4 L76.5,270.9 L77.0,270.5 L77.5,270.8 L78.0,270.9 L78.5,270.9 L79.0,270.6 L79.5,271.1 L80.0,270.9 L80.5,271.4 L81.0,271.1 L81.5,271.1 L82.0,271.5 L82.5,271.4 L83.0,271.5 L83.5,271.7 L84.0,271.5 L84.5,271.5 L85.0,271.8 L85.5,272.0 L86.0,271.9 L86.5,272.0 L87.0,272.3 L87.5,272.3 L88.0,272.2 L88.5,272.6 L89.0,272.3 L89.5,272.5 L90.0,272.3 L90.5,272.6 L91.0,272.7 L91.5,272.6 L92.0,272.4 L92.5,272.7 L93.0,272.7 L93.5,272.8 L94.0,272.5 L94.5,272.8 L95.0,272.6 L95.5,272.9 L96.0,272.7 L96.5,272.7 L97.0,272.7 L97.5,272.8 L98.0,272.9 L98.5,272.6 L99.0,272.6 L99.5,272.4 L100.0,272.5 L100.5,272.3 L101.0,272.4 L101.5,272.6 L102.0,272.3 L102.5,272.2 L103.0,272.1 L103.5,272.0 L104.0,272.2 L104.5,271.9 L105.0,271.8 L105.5,272.0 L106.0,271.8 L106.5,271.5 L107.0,271.2 L107.5,271.3 L108.0,271.1 L108.5,270.6 L109.0,270.4 L109.5,270.1 L110.0,269.9 L110.5,269.4 L111.0,268.8 L111.5,268.2 L112.0,267.6 L112.5,267.2 L113.0,266.6 L113.5,265.9 L114.0,265.2 L114.5,264.6 L115.0,263.9 L115.5,263.2 L116.0,262.6 L116.5,261.8 L117.0,261.1 L117.5,259.8 L118.0,259.5 L118.5,258.2 L119.0,257.7 L119.5,256.7 L120.0,256.0 L120.5,254.9 L121.0,254.3 L121.5,253.1 L122.0,252.8 L122.5,251.8 L123.0,251.8 L123.5,250.9 L124.0,250.5 L124.5,250.1 L125.0,249.8 L125.5,249.3 L126.0,249.0 L126.5,248.7 L127.0,248.5 L127.5,248.5 L128.0,248.1 L128.5,248.0 L129.0,247.7 L129.5,247.6 L130.0,247.5 L130.5,247.3 L131.0,246.9 L131.5,246.9 L132.0,246.6 L132.5,246.5 L133.0,246.5 L133.5,245.9 L134.0,245.4 L134.5,245.4 L135.0,244.5 L135.5,243.7 L136.0,242.6 L136.5,241.2 L137.0,238.7 L137.5,236.0 L138.0,232.5 L138.5,229.2 L139.0,227.2 L139.5,228.0 L140.0,231.6 L140.5,236.1 L141.0,240.5 L141.5,244.6 L142.0,247.3 L142.5,249.8 L143.0,251.6 L143.5,253.1 L144.0,254.4 L144.5,255.9 L145.0,257.2 L145.5,257.8 L146.0,259.0 L146.5,259.6 L147.0,260.4 L147.5,261.2 L148.0,261.7 L148.5,262.5 L149.0,263.0 L149.5,263.7 L150.0,263.8 L150.5,264.8 L151.0,265.2 L151.5,265.6 L152.0,266.0 L152.5,266.3 L153.0,266.7 L153.5,267.1 L154.0,267.1 L154.5,267.4 L155.0,267.7 L155.5,268.2 L156.0,268.0 L156.5,268.4 L157.0,268.2 L157.5,267.9 L158.0,268.4 L158.5,268.5 L159.0,268.9 L159.5,268.5 L160.0,268.7 L160.5,268.5 L161.0,268.6 L161.5,268.6 L162.0,268.2 L162.5,268.4 L163.0,268.2 L163.5,267.8 L164.0,268.0 L164.5,267.6 L165.0,267.7 L165.5,267.4 L166.0,267.4 L166.5,267.7 L167.0,267.8 L167.5,267.8 L168.0,267.8 L168.5,267.9 L169.0,268.4 L169.5,268.4 L170.0,268.6 L170.5,268.7 L171.0,268.9 L171.5,269.3 L172.0,269.6 L172.5,269.6 L173.0,269.9 L173.5,270.2 L174.0,270.5 L174.5,270.6 L175.0,270.8 L175.5,271.2 L176.0,271.6 L176.5,272.0 L177.0,272.1 L177.5,272.8 L178.0,272.6 L178.5,273.0 L179.0,273.4 L179.5,273.7 L180.0,273.9 L180.5,274.0 L181.0,274.3 L181.5,274.4 L182.0,274.9 L182.5,274.9 L183.0,275.1 L183.5,275.4 L184.0,275.4 L184.5,275.3 L185.0,275.6 L185.5,275.8 L186.0,276.2 L186.5,276.1 L187.0,276.1 L187.5,276.8 L188.0,276.6 L188.5,276.6 L189.0,276.5 L189.5,276.5 L190.0,276.8 L190.5,276.9 L191.0,276.9 L191.5,277.1 L192.0,277.1 L192.5,276.9 L193.0,277.5 L193.5,277.0 L194.0,277.5 L194.5,277.2 L195.0,277.0 L195.5,277.2 L196.0,277.5 L196.5,277.2 L197.0,277.3 L197.5,277.6 L198.0,277.2 L198.5,277.5 L199.0,277.2 L199.5,277.4 L200.0,277.4 L200.5,277.4 L201.0,277.3 L201.5,277.6 L202.0,277.2 L202.5,277.7 L203.0,277.5 L203.5,277.3 L204.0,277.6 L204.5,277.6 L205.0,277.5 L205.5,277.4 L206.0,277.8 L206.5,277.5 L207.0,277.4 L207.5,277.8 L208.0,277.6 L208.5,277.5 L209.0,277.4 L209.5,277.7 L210.0,277.5 L210.5,277.5 L211.0,277.5 L211.5,277.4 L212.0,277.9 L212.5,277.6 L213.0,277.7 L213.5,277.5 L214.0,277.8 L214.5,277.2 L215.0,277.5 L215.5,277.2 L216.0,277.7 L216.5,277.8 L217.0,277.7 L217.5,277.5 L218.0,277.7 L218.5,277.7 L219.0,277.8 L219.5,277.9 L220.0,277.6 L220.5,277.9 L221.0,277.9 L221.5,277.9 L222.0,277.7 L222.5,277.7 L223.0,277.7 L223.5,277.7 L224.0,277.7 L224.5,277.7 L225.0,277.9 L225.5,277.8 L226.0,278.0 L226.5,277.8 L227.0,278.2 L227.5,277.9 L228.0,277.9 L228.5,277.8 L229.0,278.1 L229.5,278.1 L230.0,277.9 L230.5,278.1 L231.0,278.3 L231.5,277.9 L232.0,278.2 L232.5,278.0 L233.0,278.0 L233.5,277.9 L234.0,278.1 L234.5,278.1 L235.0,278.2 L235.5,278.0 L236.0,278.1 L236.5,278.5 L237.0,278.2 L237.5,278.3 L238.0,278.2 L238.5,278.0 L239.0,278.2 L239.5,278.2 L240.0,278.0 L240.5,278.5 L241.0,278.2 L241.5,278.2 L242.0,278.3 L242.5,278.4 L243.0,278.4 L243.5,278.3 L244.0,278.5 L244.5,278.4 L245.0,278.4 L245.5,278.4 L246.0,278.3 L246.5,278.3 L247.0,278.4 L247.5,278.3 L248.0,278.3 L248.5,278.4 L249.0,278.4 L249.5,278.4 L250.0,278.3 L250.5,278.6 L251.0,278.4 L251.5,278.5 L252.0,278.5 L252.5,278.3 L253.0,278.5 L253.5,278.5 L254.0,278.6 L254.5,278.2 L255.0,278.3 L255.5,278.6 L256.0,278.3 L256.5,278.3 L257.0,278.5 L257.5,278.4 L258.0,278.6 L258.5,278.1 L259.0,278.5 L259.5,278.5 L260.0,278.3 L260.5,278.3 L261.0,278.5 L261.5,278.2 L262.0,278.6 L262.5,278.4 L263.0,278.0 L263.5,278.2 L264.0,278.2 L264.5,278.2 L265.0,277.9 L265.5,277.9 L266.0,277.7 L266.5,277.5 L267.0,277.3 L267.5,277.2 L268.0,276.8 L268.5,276.5 L269.0,276.2 L269.5,275.8 L270.0,275.8 L270.5,275.6 L271.0,275.7 L271.5,275.7 L272.0,276.3 L272.5,276.6 L273.0,276.9 L273.5,277.1 L274.0,277.4 L274.5,277.9 L275.0,277.9 L275.5,278.0 L276.0,278.1 L276.5,278.1 L277.0,278.4 L277.5,278.3 L278.0,278.3 L278.5,278.7 L279.0,278.5 L279.5,278.7 L280.0,278.5 L280.5,278.6 L281.0,278.8 L281.5,278.7 L282.0,278.8 L282.5,278.8 L283.0,278.5 L283.5,278.9 L284.0,278.8 L284.5,278.6 L285.0,279.0 L285.5,279.0 L286.0,279.2 L286.5,278.9 L287.0,279.0 L287.5,278.7 L288.0,279.3 L288.5,279.0 L289.0,279.0 L289.5,279.0 L290.0,278.9 L290.5,278.8 L291.0,279.1 L291.5,278.9 L292.0,279.2 L292.5,279.0 L293.0,279.2 L293.5,279.1 L294.0,279.0 L294.5,279.0 L295.0,279.2 L295.5,279.3 L296.0,279.3 L296.5,278.9 L297.0,279.1 L297.5,279.1 L298.0,279.3 L298.5,279.0 L299.0,278.8 L299.5,278.9 L300.0,278.6 L300.5,279.1 L301.0,278.8 L301.5,278.9 L302.0,278.3 L302.5,278.6 L303.0,278.5 L303.5,278.5 L304.0,278.6 L304.5,278.3 L305.0,278.6 L305.5,278.3 L306.0,278.4 L306.5,278.1 L307.0,278.1 L307.5,278.2 L308.0,277.5 L308.5,277.9 L309.0,277.8 L309.5,277.7 L310.0,277.5 L310.5,277.2 L311.0,277.2 L311.5,276.9 L312.0,277.1 L312.5,277.1 L313.0,276.8 L313.5,276.7 L314.0,276.8 L314.5,276.8 L315.0,276.9 L315.5,277.1 L316.0,276.8 L316.5,277.0 L317.0,277.1 L317.5,277.3 L318.0,277.1 L318.5,277.4 L319.0,277.4 L319.5,277.3 L320.0,277.8 L320.5,277.6 L321.0,277.7 L321.5,277.8 L322.0,278.0 L322.5,278.0 L323.0,278.3 L323.5,278.3 L324.0,278.1 L324.5,278.3 L325.0,278.1 L325.5,278.3 L326.0,278.5 L326.5,278.7 L327.0,278.7 L327.5,278.6 L328.0,278.8 L328.5,278.8 L329.0,279.0 L329.5,279.1 L330.0,279.0 L330.5,279.2 L331.0,278.9 L331.5,279.1 L332.0,279.1 L332.5,279.1 L333.0,279.6 L333.5,279.1 L334.0,279.4 L334.5,279.2 L335.0,279.1 L335.5,279.4 L336.0,279.1 L336.5,279.2 L337.0,279.2 L337.5,279.1 L338.0,279.5 L338.5,279.2 L339.0,279.4 L339.5,279.2 L340.0,279.3 L340.5,279.3 L341.0,279.5 L341.5,279.3 L342.0,279.2 L342.5,279.5 L343.0,279.3 L343.5,279.1 L344.0,279.3 L344.5,279.3 L345.0,279.5 L345.5,279.4 L346.0,279.4 L346.5,279.5 L347.0,279.2 L347.5,279.4 L348.0,279.3 L348.5,279.2 L349.0,279.3 L349.5,279.1 L350.0,279.2 L350.5,279.1 L351.0,279.3 L351.5,279.3 L352.0,279.0 L352.5,279.3 L353.0,279.2 L353.5,279.3 L354.0,279.4 L354.5,279.1 L355.0,279.2 L355.5,279.1 L356.0,279.4 L356.5,279.3 L357.0,279.4 L357.5,279.1 L358.0,279.3 L358.5,279.2 L359.0,279.2 L359.5,279.0 L360.0,279.0 L360.5,279.3 L361.0,278.9 L361.5,279.1 L362.0,279.4 L362.5,278.8 L363.0,279.0 L363.5,279.0 L364.0,278.7 L364.5,279.0 L365.0,278.7 L365.5,278.6 L366.0,278.8 L366.5,278.6 L367.0,278.8 L367.5,278.8 L368.0,278.7 L368.5,278.4 L369.0,278.4 L369.5,278.4 L370.0,278.0 L370.5,278.3 L371.0,278.2 L371.5,278.1 L372.0,277.7 L372.5,277.4 L373.0,277.5 L373.5,276.9 L374.0,276.8 L374.5,276.4 L375.0,275.7 L375.5,275.5 L376.0,275.0 L376.5,274.6 L377.0,274.1 L377.5,273.5 L378.0,273.7 L378.5,273.6 L379.0,273.9 L379.5,274.6 L380.0,274.7 L380.5,275.6 L381.0,276.0 L381.5,276.0 L382.0,276.6 L382.5,276.8 L383.0,277.1 L383.5,277.5 L384.0,277.8 L384.5,278.0 L385.0,277.9 L385.5,278.2 L386.0,278.1 L386.5,278.2 L387.0,278.3 L387.5,278.5 L388.0,278.2 L388.5,278.4 L389.0,278.3 L389.5,278.6 L390.0,278.6 L390.5,278.7 L391.0,278.3 L391.5,278.5 L392.0,278.6 L392.5,278.7 L393.0,278.5 L393.5,278.8 L394.0,278.8 L394.5,278.8 L395.0,278.4 L395.5,278.6 L396.0,278.9 L396.5,278.8 L397.0,278.6 L397.5,278.6 L398.0,278.8 L398.5,278.9 L399.0,278.6 L399.5,278.9 L400.0,279.1 L400.5,279.1 L401.0,278.9 L401.5,278.8 L402.0,279.1 L402.5,278.9 L403.0,279.2 L403.5,279.2 L404.0,278.8 L404.5,279.1 L405.0,279.1 L405.5,278.9 L406.0,279.5 L406.5,279.2 L407.0,279.2 L407.5,279.4 L408.0,279.3 L408.5,279.3 L409.0,279.5 L409.5,279.3 L410.0,279.6 L410.5,279.3 L411.0,279.4 L411.5,279.8 L412.0,279.6 L412.5,279.5 L413.0,279.9 L413.5,279.6 L414.0,279.5 L414.5,279.6 L415.0,279.8 L415.5,279.8 L416.0,279.6 L416.5,279.8 L417.0,279.7 L417.5,279.9 L418.0,279.8 L418.5,280.0 L419.0,279.9 L419.5,280.1 L420.0,279.9 L420.5,280.1 L421.0,279.9 L421.5,279.8 L422.0,280.1 L422.5,280.0 L423.0,280.1 L423.5,280.0 L424.0,280.4 L424.5,280.2 L425.0,280.3 L425.5,280.1 L426.0,280.2 L426.5,280.2 L427.0,280.3 L427.5,280.4 L428.0,280.3 L428.5,280.2 L429.0,280.6 L429.5,280.5 L430.0,280.2 L430.5,280.2 L431.0,280.4 L431.5,280.3 L432.0,280.4 L432.5,280.3 L433.0,280.2 L433.5,280.3 L434.0,280.3 L434.5,280.4 L435.0,280.4 L435.5,280.0 L436.0,280.3 L436.5,280.6 L437.0,280.3 L437.5,280.7 L438.0,280.4 L438.5,280.2 L439.0,280.4 L439.5,280.5 L440.0,280.5 L440.5,280.6 L441.0,280.5 L441.5,280.6 L442.0,280.4 L442.5,280.2 L443.0,280.6 L443.5,280.6 L444.0,280.5 L444.5,280.2 L445.0,280.5 L445.5,280.6 L446.0,280.4 L446.5,280.4 L447.0,280.3 L447.5,280.6 L448.0,280.7 L448.5,280.4 L449.0,280.7 L449.5,280.5 L450.0,280.8 L450.5,280.5 L451.0,280.2 L451.5,280.4 L452.0,280.7 L452.5,280.4 L453.0,280.2 L453.5,280.7 L454.0,280.4 L454.5,280.3 L455.0,280.6 L455.5,280.3 L456.0,280.7 L456.5,280.9 L457.0,280.5 L457.5,280.4 L458.0,280.4 L458.5,280.4 L459.0,280.9 L459.5,280.5 L460.0,280.5 L460.5,280.4 L461.0,280.3 L461.5,280.6 L462.0,280.4 L462.5,280.5 L463.0,280.4 L463.5,280.4 L464.0,280.4 L464.5,280.2 L465.0,280.4 L465.5,280.6 L466.0,280.3 L466.5,280.4 L467.0,280.3 L467.5,280.6 L468.0,280.4 L468.5,280.0 L469.0,280.4 L469.5,280.5 L470.0,280.4 L470.5,280.5 L471.0,280.3 L471.5,280.2 L472.0,280.0 L472.5,279.9 L473.0,279.9 L473.5,280.1 L474.0,280.0 L474.5,279.6 L475.0,279.4 L475.5,279.7 L476.0,279.6 L476.5,279.4 L477.0,279.7 L477.5,279.7 L478.0,279.6 L478.5,279.7 L479.0,279.8 L479.5,280.2 L480.0,280.2 L480.5,280.3 L481.0,280.3 L481.5,280.3 L482.0,280.4 L482.5,280.4 L483.0,280.2 L483.5,280.5 L484.0,280.5 L484.5,280.5 L485.0,280.6 L485.5,280.6 L486.0,280.7 L486.5,280.7 L487.0,280.8 L487.5,280.9 L488.0,280.9 L488.5,280.7 L489.0,280.6 L489.5,280.8 L490.0,280.7 L490.5,280.7 L491.0,280.8 L491.5,280.9 L492.0,280.8 L492.5,281.1 L493.0,280.9 L493.5,280.8 L494.0,281.0 L494.5,281.0 L495.0,280.9 L495.5,281.0 L496.0,280.8 L496.5,280.8 L497.0,280.9 L497.5,281.1 L498.0,280.9 L498.5,280.7 L499.0,280.9 L499.5,281.1 L500.0,281.1 L500.5,281.1 L501.0,281.1 L501.5,281.2 L502.0,281.3 L502.5,281.2 L503.0,280.9 L503.5,281.3 L504.0,281.3 L504.5,281.0 L505.0,280.9 L505.5,281.1 L506.0,281.4 L506.5,281.3 L507.0,280.9 L507.5,281.2 L508.0,281.3 L508.5,281.2 L509.0,281.4 L509.5,281.0 L510.0,281.3 L510.5,281.3 L511.0,281.4 L511.5,281.2 L512.0,281.4 L512.5,281.2 L513.0,281.4 L513.5,281.3 L514.0,281.4 L514.5,281.6 L515.0,281.3 L515.5,281.3 L516.0,281.4 L516.5,281.3 L517.0,281.4 L517.5,281.6 L518.0,281.4 L518.5,281.6 L519.0,281.6 L519.5,281.1 L520.0,281.3 L520.5,281.6 L521.0,281.7 L521.5,281.6 L522.0,281.6 L522.5,281.4 L523.0,281.6 L523.5,281.6 L524.0,281.8 L524.5,281.9 L525.0,281.7 L525.5,281.3 L526.0,281.7 L526.5,281.8 L527.0,281.7 L527.5,282.0 L528.0,281.6 L528.5,281.5 L529.0,281.9 L529.5,281.7 L530.0,281.7 L530.5,281.8 L531.0,281.7 L531.5,281.8 L532.0,281.8 L532.5,281.8 L533.0,282.1 L533.5,281.8 L534.0,282.0 L534.5,282.0 L535.0,281.9 L535.5,281.8" stroke-width="1.8"/>
<path d="M37.0,283.8 L37.5,284.0 L38.0,283.7 L38.5,283.8 L39.0,284.0 L39.5,284.2 L40.0,284.4 L40.5,284.4 L41.0,284.8 L41.5,284.8 L42.0,284.7 L42.5,285.2 L43.0,285.2 L43.5,285.6 L44.0,285.2 L44.5,285.8 L45.0,285.5 L45.5,285.5 L46.0,285.7 L46.5,285.4 L47.0,286.2 L47.5,286.2 L48.0,286.0 L48.5,286.2 L49.0,286.7 L49.5,286.5 L50.0,286.5 L50.5,286.9 L51.0,286.8 L51.5,286.6 L52.0,286.9 L52.5,286.7 L53.0,287.1 L53.5,287.3 L54.0,287.4 L54.5,287.5 L55.0,287.2 L55.5,287.8 L56.0,288.1 L56.5,287.9 L57.0,287.9 L57.5,288.4 L58.0,288.1 L58.5,288.6 L59.0,288.2 L59.5,288.4 L60.0,288.5 L60.5,289.1 L61.0,289.2 L61.5,288.7 L62.0,289.3 L62.5,289.4 L63.0,288.9 L63.5,289.3 L64.0,289.3 L64.5,290.0 L65.0,289.5 L65.5,289.3 L66.0,289.6 L66.5,290.1 L67.0,289.8 L67.5,290.4 L68.0,290.3 L68.5,290.6 L69.0,290.2 L69.5,290.6 L70.0,290.4 L70.5,290.6 L71.0,290.7 L71.5,291.0 L72.0,290.9 L72.5,291.5 L73.0,290.8 L73.5,291.2 L74.0,291.5 L74.5,291.3 L75.0,292.1 L75.5,291.7 L76.0,292.0 L76.5,292.0 L77.0,292.0 L77.5,291.8 L78.0,291.8 L78.5,291.9 L79.0,292.3 L79.5,292.4 L80.0,292.8 L80.5,292.1 L81.0,292.3 L81.5,292.9 L82.0,293.1 L82.5,292.8 L83.0,292.8 L83.5,293.4 L84.0,292.9 L84.5,292.9 L85.0,293.2 L85.5,293.3 L86.0,292.8 L86.5,293.3 L87.0,292.9 L87.5,293.2 L88.0,293.1 L88.5,292.6 L89.0,293.1 L89.5,292.9 L90.0,292.9 L90.5,292.8 L91.0,293.0 L91.5,292.8 L92.0,292.8 L92.5,292.8 L93.0,293.2 L93.5,293.0 L94.0,292.7 L94.5,293.4 L95.0,293.0 L95.5,292.9 L96.0,292.7 L96.5,292.9 L97.0,293.2 L97.5,292.7 L98.0,292.5 L98.5,292.4 L99.0,292.6 L99.5,292.5 L100.0,292.1 L100.5,292.0 L101.0,291.3 L101.5,291.4 L102.0,290.6 L102.5,290.9 L103.0,290.0 L103.5,289.7 L104.0,289.9 L104.5,289.6 L105.0,289.4 L105.5,288.7 L106.0,288.9 L106.5,287.6 L107.0,287.7 L107.5,287.1 L108.0,286.4 L108.5,285.6 L109.0,285.4 L109.5,284.7 L110.0,283.7 L110.5,283.4 L111.0,283.0 L111.5,281.2 L112.0,280.8 L112.5,279.7 L113.0,278.3 L113.5,277.5 L114.0,276.2 L114.5,274.8 L115.0,273.7 L115.5,271.8 L116.0,270.3 L116.5,269.0 L117.0,267.6 L117.5,266.8 L118.0,264.4 L118.5,263.8 L119.0,262.1 L119.5,261.1 L120.0,260.0 L120.5,258.4 L121.0,257.6 L121.5,256.8 L122.0,255.5 L122.5,254.5 L123.0,254.1 L123.5,253.9 L124.0,253.4 L124.5,253.0 L125.0,253.6 L125.5,253.5 L126.0,253.7 L126.5,254.3 L127.0,255.2 L127.5,256.3 L128.0,256.9 L128.5,257.8 L129.0,258.4 L129.5,259.2 L130.0,260.3 L130.5,260.7 L131.0,261.3 L131.5,262.1 L132.0,262.1 L132.5,262.6 L133.0,262.7 L133.5,263.4 L134.0,263.7 L134.5,263.8 L135.0,264.0 L135.5,263.7 L136.0,264.0 L136.5,264.1 L137.0,263.0 L137.5,261.8 L138.0,259.9 L138.5,259.8 L139.0,260.9 L139.5,263.6 L140.0,266.4 L140.5,268.7 L141.0,270.6 L141.5,271.9 L142.0,273.5 L142.5,274.7 L143.0,276.4 L143.5,278.1 L144.0,279.1 L144.5,279.8 L145.0,281.5 L145.5,282.4 L146.0,283.2 L146.5,283.6 L147.0,284.2 L147.5,284.7 L148.0,285.3 L148.5,285.9 L149.0,285.3 L149.5,286.0 L150.0,286.5 L150.5,286.3 L151.0,287.0 L151.5,287.2 L152.0,287.3 L152.5,287.4 L153.0,287.3 L153.5,287.2 L154.0,287.2 L154.5,287.0 L155.0,286.9 L155.5,286.8 L156.0,286.3 L156.5,286.2 L157.0,285.9 L157.5,285.4 L158.0,285.2 L158.5,284.7 L159.0,283.9 L159.5,283.6 L160.0,283.0 L160.5,282.0 L161.0,281.9 L161.5,281.3 L162.0,280.5 L162.5,280.1 L163.0,280.0 L163.5,279.7 L164.0,278.7 L164.5,278.3 L165.0,277.7 L165.5,277.4 L166.0,277.3 L166.5,277.1 L167.0,277.2 L167.5,277.6 L168.0,277.1 L168.5,277.5 L169.0,278.4 L169.5,278.4 L170.0,280.0 L170.5,280.5 L171.0,281.4 L171.5,282.6 L172.0,283.8 L172.5,284.8 L173.0,286.0 L173.5,287.2 L174.0,288.1 L174.5,288.6 L175.0,289.7 L175.5,290.7 L176.0,291.3 L176.5,292.4 L177.0,292.7 L177.5,293.5 L178.0,294.1 L178.5,294.5 L179.0,295.1 L179.5,295.2 L180.0,296.0 L180.5,296.7 L181.0,296.9 L181.5,297.6 L182.0,297.0 L182.5,297.7 L183.0,298.0 L183.5,298.5 L184.0,298.7 L184.5,298.5 L185.0,299.0 L185.5,298.9 L186.0,299.2 L186.5,299.5 L187.0,299.7 L187.5,299.5 L188.0,300.4 L188.5,299.9 L189.0,300.5 L189.5,300.7 L190.0,300.8 L190.5,301.1 L191.0,300.8 L191.5,301.1 L192.0,301.1 L192.5,301.5 L193.0,301.1 L193.5,301.5 L194.0,301.9 L194.5,302.4 L195.0,302.2 L195.5,301.7 L196.0,301.9 L196.5,302.4 L197.0,302.1 L197.5,302.1 L198.0,302.6 L198.5,302.6 L199.0,302.5 L199.5,302.9 L200.0,302.4 L200.5,302.4 L201.0,303.2 L201.5,302.5 L202.0,302.9 L202.5,302.8 L203.0,303.1 L203.5,302.9 L204.0,303.2 L204.5,303.5 L205.0,303.5 L205.5,303.4 L206.0,303.2 L206.5,303.7 L207.0,303.0 L207.5,303.1 L208.0,303.6 L208.5,303.6 L209.0,304.0 L209.5,304.0 L210.0,303.4 L210.5,303.7 L211.0,303.5 L211.5,304.2 L212.0,303.7 L212.5,304.0 L213.0,304.0 L213.5,304.5 L214.0,304.3 L214.5,303.9 L215.0,304.3 L215.5,304.5 L216.0,303.9 L216.5,304.2 L217.0,304.9 L217.5,304.7 L218.0,304.5 L218.5,304.5 L219.0,304.5 L219.5,304.4 L220.0,304.1 L220.5,305.0 L221.0,304.6 L221.5,304.3 L222.0,304.8 L222.5,304.4 L223.0,305.1 L223.5,304.8 L224.0,304.8 L224.5,304.3 L225.0,304.8 L225.5,305.1 L226.0,304.9 L226.5,304.7 L227.0,304.8 L227.5,304.8 L228.0,304.9 L228.5,304.9 L229.0,304.7 L229.5,305.1 L230.0,305.1 L230.5,304.9 L231.0,304.9 L231.5,304.9 L232.0,304.9 L232.5,304.7 L233.0,304.8 L233.5,304.9 L234.0,305.5 L234.5,304.7 L235.0,304.9 L235.5,305.1 L236.0,305.3 L236.5,305.1 L237.0,304.9 L237.5,304.8 L238.0,305.0 L238.5,305.3 L239.0,305.2 L239.5,305.3 L240.0,305.3 L240.5,305.4 L241.0,305.2 L241.5,304.8 L242.0,305.5 L242.5,305.6 L243.0,305.3 L243.5,304.7 L244.0,305.0 L244.5,305.7 L245.0,305.7 L245.5,305.2 L246.0,305.4 L246.5,305.1 L247.0,305.5 L247.5,305.3 L248.0,305.1 L248.5,304.9 L249.0,305.6 L249.5,305.1 L250.0,305.4 L250.5,305.8 L251.0,305.4 L251.5,305.9 L252.0,305.9 L252.5,305.6 L253.0,305.7 L253.5,305.5 L254.0,305.4 L254.5,305.0 L255.0,305.8 L255.5,305.4 L256.0,305.4 L256.5,305.7 L257.0,305.1 L257.5,305.4 L258.0,305.6 L258.5,305.1 L259.0,305.5 L259.5,305.3 L260.0,305.3 L260.5,305.3 L261.0,304.9 L261.5,305.4 L262.0,305.4 L262.5,305.2 L263.0,305.2 L263.5,305.0 L264.0,305.3 L264.5,305.2 L265.0,305.5 L265.5,305.6 L266.0,305.1 L266.5,305.2 L267.0,304.6 L267.5,304.3 L268.0,304.7 L268.5,304.6 L269.0,304.4 L269.5,304.1 L270.0,304.1 L270.5,304.2 L271.0,304.6 L271.5,304.5 L272.0,304.8 L272.5,304.9 L273.0,305.3 L273.5,304.9 L274.0,304.7 L274.5,304.8 L275.0,305.1 L275.5,305.2 L276.0,305.5 L276.5,305.6 L277.0,305.0 L277.5,305.2 L278.0,305.5 L278.5,305.4 L279.0,305.9 L279.5,305.3 L280.0,305.5 L280.5,304.9 L281.0,305.1 L281.5,305.6 L282.0,305.7 L282.5,305.3 L283.0,304.9 L283.5,305.3 L284.0,305.4 L284.5,305.3 L285.0,305.1 L285.5,305.1 L286.0,305.0 L286.5,305.2 L287.0,305.0 L287.5,305.3 L288.0,305.2 L288.5,304.9 L289.0,304.9 L289.5,305.0 L290.0,305.2 L290.5,304.8 L291.0,305.0 L291.5,304.9 L292.0,304.6 L292.5,304.4 L293.0,304.6 L293.5,304.5 L294.0,304.1 L294.5,304.0 L295.0,303.4 L295.5,303.5 L296.0,303.3 L296.5,303.6 L297.0,303.0 L297.5,302.9 L298.0,302.1 L298.5,302.4 L299.0,302.3 L299.5,302.1 L300.0,301.9 L300.5,301.4 L301.0,301.5 L301.5,301.3 L302.0,301.8 L302.5,301.1 L303.0,300.5 L303.5,300.5 L304.0,300.1 L304.5,299.7 L305.0,299.6 L305.5,299.5 L306.0,299.2 L306.5,299.1 L307.0,298.2 L307.5,298.4 L308.0,298.5 L308.5,297.5 L309.0,297.4 L309.5,297.8 L310.0,297.1 L310.5,297.2 L311.0,296.7 L311.5,296.6 L312.0,296.4 L312.5,296.1 L313.0,296.1 L313.5,295.8 L314.0,295.9 L314.5,296.2 L315.0,296.1 L315.5,296.6 L316.0,296.3 L316.5,297.2 L317.0,296.6 L317.5,297.8 L318.0,297.7 L318.5,298.1 L319.0,298.3 L319.5,298.4 L320.0,298.9 L320.5,299.4 L321.0,299.5 L321.5,300.2 L322.0,300.0 L322.5,300.2 L323.0,300.9 L323.5,300.9 L324.0,301.2 L324.5,301.7 L325.0,302.0 L325.5,302.5 L326.0,302.4 L326.5,302.4 L327.0,302.5 L327.5,302.9 L328.0,302.9 L328.5,303.9 L329.0,303.6 L329.5,303.7 L330.0,303.7 L330.5,304.3 L331.0,304.1 L331.5,304.1 L332.0,304.8 L332.5,304.8 L333.0,305.3 L333.5,304.9 L334.0,305.5 L334.5,305.1 L335.0,305.3 L335.5,305.4 L336.0,305.0 L336.5,305.8 L337.0,305.8 L337.5,305.5 L338.0,305.8 L338.5,305.8 L339.0,305.5 L339.5,306.1 L340.0,305.8 L340.5,305.8 L341.0,305.8 L341.5,305.8 L342.0,305.7 L342.5,306.3 L343.0,306.0 L343.5,306.0 L344.0,305.3 L344.5,306.5 L345.0,306.2 L345.5,305.7 L346.0,306.0 L346.5,305.7 L347.0,306.3 L347.5,305.9 L348.0,306.3 L348.5,306.2 L349.0,306.2 L349.5,305.7 L350.0,306.2 L350.5,305.9 L351.0,306.0 L351.5,306.0 L352.0,305.7 L352.5,306.4 L353.0,306.0 L353.5,306.2 L354.0,305.9 L354.5,306.0 L355.0,306.1 L355.5,305.9 L356.0,306.3 L356.5,306.4 L357.0,306.0 L357.5,306.1 L358.0,306.6 L358.5,306.1 L359.0,305.9 L359.5,305.9 L360.0,306.2 L360.5,306.5 L361.0,305.9 L361.5,306.0 L362.0,306.1 L362.5,305.7 L363.0,305.9 L363.5,306.0 L364.0,305.7 L364.5,305.8 L365.0,305.6 L365.5,305.8 L366.0,305.4 L366.5,305.9 L367.0,305.3 L367.5,304.9 L368.0,305.2 L368.5,305.3 L369.0,305.0 L369.5,305.1 L370.0,305.1 L370.5,304.8 L371.0,305.0 L371.5,304.1 L372.0,305.1 L372.5,304.7 L373.0,304.2 L373.5,304.1 L374.0,304.2 L374.5,304.2 L375.0,303.8 L375.5,303.1 L376.0,302.4 L376.5,302.4 L377.0,302.2 L377.5,302.1 L378.0,301.8 L378.5,302.0 L379.0,302.5 L379.5,302.8 L380.0,303.0 L380.5,303.6 L381.0,304.1 L381.5,304.2 L382.0,304.8 L382.5,304.0 L383.0,304.3 L383.5,304.5 L384.0,305.0 L384.5,304.9 L385.0,304.5 L385.5,304.3 L386.0,305.0 L386.5,304.9 L387.0,305.1 L387.5,304.9 L388.0,305.2 L388.5,305.1 L389.0,305.2 L389.5,304.8 L390.0,305.1 L390.5,304.7 L391.0,305.2 L391.5,304.6 L392.0,304.9 L392.5,304.6 L393.0,304.5 L393.5,304.8 L394.0,304.8 L394.5,304.5 L395.0,304.4 L395.5,304.0 L396.0,304.2 L396.5,304.0 L397.0,303.9 L397.5,304.0 L398.0,303.2 L398.5,303.4 L399.0,303.3 L399.5,303.9 L400.0,302.8 L400.5,303.0 L401.0,303.1 L401.5,303.0 L402.0,302.6 L402.5,302.5 L403.0,302.3 L403.5,302.5 L404.0,302.0 L404.5,302.1 L405.0,302.3 L405.5,302.3 L406.0,302.9 L406.5,301.8 L407.0,302.1 L407.5,302.1 L408.0,302.7 L408.5,302.8 L409.0,302.3 L409.5,302.8 L410.0,302.5 L410.5,303.1 L411.0,303.1 L411.5,303.2 L412.0,303.5 L412.5,304.0 L413.0,303.8 L413.5,303.5 L414.0,304.0 L414.5,304.0 L415.0,304.6 L415.5,304.6 L416.0,304.7 L416.5,304.8 L417.0,305.0 L417.5,304.9 L418.0,305.3 L418.5,305.4 L419.0,305.0 L419.5,305.2 L420.0,306.1 L420.5,306.1 L421.0,305.6 L421.5,306.2 L422.0,306.0 L422.5,305.7 L423.0,306.1 L423.5,306.0 L424.0,305.9 L424.5,305.6 L425.0,305.8 L425.5,305.9 L426.0,305.8 L426.5,305.8 L427.0,305.6 L427.5,306.2 L428.0,305.5 L428.5,306.0 L429.0,305.2 L429.5,305.9 L430.0,305.5 L430.5,305.5 L431.0,305.0 L431.5,305.6 L432.0,305.2 L432.5,305.7 L433.0,305.6 L433.5,305.7 L434.0,305.8 L434.5,305.2 L435.0,305.6 L435.5,305.6 L436.0,305.6 L436.5,305.8 L437.0,306.0 L437.5,305.6 L438.0,305.5 L438.5,306.0 L439.0,306.6 L439.5,306.1 L440.0,306.5 L440.5,306.2 L441.0,306.8 L441.5,306.5 L442.0,306.8 L442.5,306.6 L443.0,307.1 L443.5,307.3 L444.0,307.4 L444.5,307.3 L445.0,306.9 L445.5,307.4 L446.0,307.2 L446.5,307.2 L447.0,307.3 L447.5,307.4 L448.0,307.9 L448.5,307.7 L449.0,308.5 L449.5,307.8 L450.0,307.8 L450.5,308.1 L451.0,307.8 L451.5,308.0 L452.0,307.9 L452.5,308.1 L453.0,308.3 L453.5,307.9 L454.0,308.2 L454.5,308.0 L455.0,308.1 L455.5,308.1 L456.0,308.3 L456.5,308.6 L457.0,308.5 L457.5,307.8 L458.0,308.5 L458.5,308.3 L459.0,309.0 L459.5,308.4 L460.0,308.3 L460.5,308.4 L461.0,309.0 L461.5,308.6 L462.0,308.8 L462.5,308.9 L463.0,308.8 L463.5,308.8 L464.0,309.1 L464.5,308.1 L465.0,308.8 L465.5,308.4 L466.0,308.6 L466.5,308.9 L467.0,308.7 L467.5,308.9 L468.0,308.7 L468.5,309.1 L469.0,309.1 L469.5,308.4 L470.0,308.8 L470.5,308.7 L471.0,309.2 L471.5,309.1 L472.0,308.9 L472.5,309.2 L473.0,309.0 L473.5,309.0 L474.0,308.7 L474.5,309.2 L475.0,308.8 L475.5,308.7 L476.0,309.3 L476.5,309.0 L477.0,309.5 L477.5,308.6 L478.0,309.1 L478.5,309.1 L479.0,308.9 L479.5,309.1 L480.0,309.0 L480.5,308.8 L481.0,309.0 L481.5,308.8 L482.0,308.9 L482.5,309.2 L483.0,309.3 L483.5,308.7 L484.0,308.9 L484.5,308.6 L485.0,309.1 L485.5,309.5 L486.0,309.1 L486.5,308.9 L487.0,308.9 L487.5,309.1 L488.0,309.0 L488.5,309.6 L489.0,309.3 L489.5,309.1 L490.0,309.4 L490.5,309.6 L491.0,309.5 L491.5,309.6 L492.0,309.3 L492.5,309.8 L493.0,309.4 L493.5,309.6 L494.0,309.0 L494.5,309.5 L495.0,309.4 L495.5,309.4 L496.0,309.7 L496.5,309.4 L497.0,309.6 L497.5,309.4 L498.0,309.7 L498.5,309.3 L499.0,309.7 L499.5,309.5 L500.0,309.5 L500.5,309.7 L501.0,310.0 L501.5,309.4 L502.0,309.3 L502.5,309.5 L503.0,309.6 L503.5,309.5 L504.0,309.6 L504.5,309.9 L505.0,310.2 L505.5,309.3 L506.0,309.9 L506.5,309.7 L507.0,310.2 L507.5,309.5 L508.0,309.7 L508.5,310.0 L509.0,310.1 L509.5,309.8 L510.0,309.4 L510.5,310.0 L511.0,309.9 L511.5,309.7 L512.0,309.9 L512.5,309.9 L513.0,309.7 L513.5,310.0 L514.0,309.9 L514.5,310.3 L515.0,309.8 L515.5,309.6 L516.0,310.0 L516.5,309.9 L517.0,310.2 L517.5,309.6 L518.0,309.8 L518.5,310.3 L519.0,310.1 L519.5,310.3 L520.0,310.4 L520.5,310.0 L521.0,310.1 L521.5,309.9 L522.0,310.2 L522.5,310.1 L523.0,310.0 L523.5,309.9 L524.0,310.2 L524.5,310.2 L525.0,310.0 L525.5,310.2 L526.0,310.3 L526.5,309.8 L527.0,309.9 L527.5,310.1 L528.0,310.5 L528.5,309.8 L529.0,310.5 L529.5,310.4 L530.0,310.1 L530.5,310.1 L531.0,310.2 L531.5,310.5 L532.0,310.2 L532.5,310.4 L533.0,310.0 L533.5,310.5 L534.0,310.3 L534.5,310.4 L535.0,309.9 L535.5,310.9" stroke-width="1.9"/>
<path d="M37.0,308.9 L37.5,308.5 L38.0,309.4 L38.5,309.3 L39.0,309.1 L39.5,309.1 L40.0,309.9 L40.5,309.7 L41.0,309.5 L41.5,309.3 L42.0,309.9 L42.5,310.6 L43.0,310.0 L43.5,310.1 L44.0,309.9 L44.5,310.3 L45.0,310.1 L45.5,310.3 L46.0,310.5 L46.5,310.6 L47.0,310.8 L47.5,311.0 L48.0,310.4 L48.5,310.8 L49.0,310.8 L49.5,311.2 L50.0,311.2 L50.5,311.1 L51.0,311.8 L51.5,311.3 L52.0,311.4 L52.5,312.1 L53.0,311.8 L53.5,311.9 L54.0,312.0 L54.5,312.1 L55.0,312.1 L55.5,312.5 L56.0,312.3 L56.5,312.9 L57.0,313.1 L57.5,312.5 L58.0,312.3 L58.5,312.9 L59.0,313.2 L59.5,312.7 L60.0,313.0 L60.5,313.1 L61.0,313.4 L61.5,313.3 L62.0,313.8 L62.5,313.5 L63.0,313.9 L63.5,313.6 L64.0,313.7 L64.5,314.2 L65.0,314.0 L65.5,313.7 L66.0,314.4 L66.5,314.2 L67.0,314.8 L67.5,314.6 L68.0,314.3 L68.5,314.5 L69.0,314.5 L69.5,315.0 L70.0,314.5 L70.5,314.5 L71.0,315.1 L71.5,315.1 L72.0,315.6 L72.5,315.5 L73.0,315.9 L73.5,315.8 L74.0,316.1 L74.5,315.8 L75.0,315.3 L75.5,315.7 L76.0,315.3 L76.5,316.3 L77.0,316.6 L77.5,316.2 L78.0,315.9 L78.5,316.6 L79.0,316.6 L79.5,316.4 L80.0,316.7 L80.5,316.7 L81.0,316.6 L81.5,316.8 L82.0,317.1 L82.5,316.7 L83.0,316.5 L83.5,317.1 L84.0,317.4 L84.5,316.9 L85.0,317.3 L85.5,317.4 L86.0,317.4 L86.5,317.4 L87.0,317.6 L87.5,317.2 L88.0,317.2 L88.5,317.4 L89.0,317.2 L89.5,317.7 L90.0,317.8 L90.5,317.5 L91.0,318.4 L91.5,317.8 L92.0,317.7 L92.5,318.3 L93.0,318.4 L93.5,317.4 L94.0,317.2 L94.5,318.5 L95.0,318.0 L95.5,317.8 L96.0,317.5 L96.5,318.3 L97.0,318.3 L97.5,318.0 L98.0,318.1 L98.5,317.1 L99.0,317.7 L99.5,317.4 L100.0,317.5 L100.5,317.1 L101.0,317.1 L101.5,316.9 L102.0,316.7 L102.5,316.7 L103.0,316.5 L103.5,316.4 L104.0,316.2 L104.5,316.4 L105.0,316.1 L105.5,315.9 L106.0,315.5 L106.5,314.7 L107.0,314.3 L107.5,314.1 L108.0,313.4 L108.5,312.9 L109.0,312.1 L109.5,311.5 L110.0,310.7 L110.5,309.9 L111.0,309.0 L111.5,308.2 L112.0,307.1 L112.5,306.0 L113.0,305.9 L113.5,304.0 L114.0,303.2 L114.5,302.0 L115.0,300.9 L115.5,299.6 L116.0,297.6 L116.5,297.1 L117.0,295.7 L117.5,293.3 L118.0,291.6 L118.5,290.7 L119.0,289.0 L119.5,287.7 L120.0,285.9 L120.5,285.0 L121.0,284.4 L121.5,283.1 L122.0,282.9 L122.5,283.1 L123.0,282.8 L123.5,283.0 L124.0,283.0 L124.5,283.8 L125.0,285.0 L125.5,286.4 L126.0,287.2 L126.5,289.0 L127.0,290.2 L127.5,292.0 L128.0,293.7 L128.5,295.6 L129.0,297.5 L129.5,298.9 L130.0,300.1 L130.5,302.2 L131.0,303.8 L131.5,305.4 L132.0,306.6 L132.5,307.5 L133.0,309.3 L133.5,309.8 L134.0,311.1 L134.5,312.1 L135.0,312.9 L135.5,313.9 L136.0,314.3 L136.5,315.2 L137.0,315.6 L137.5,316.3 L138.0,316.8 L138.5,316.4 L139.0,317.4 L139.5,317.4 L140.0,317.8 L140.5,318.3 L141.0,318.7 L141.5,318.8 L142.0,319.0 L142.5,319.8 L143.0,319.4 L143.5,320.4 L144.0,319.8 L144.5,319.6 L145.0,319.7 L145.5,320.3 L146.0,319.6 L146.5,320.0 L147.0,320.9 L147.5,319.8 L148.0,319.6 L148.5,320.0 L149.0,320.5 L149.5,319.7 L150.0,319.5 L150.5,319.2 L151.0,318.4 L151.5,318.3 L152.0,318.3 L152.5,317.7 L153.0,317.8 L153.5,316.8 L154.0,316.2 L154.5,315.6 L155.0,316.2 L155.5,315.3 L156.0,314.2 L156.5,313.8 L157.0,313.4 L157.5,312.4 L158.0,311.8 L158.5,310.5 L159.0,309.5 L159.5,309.5 L160.0,308.3 L160.5,308.1 L161.0,306.8 L161.5,306.7 L162.0,305.4 L162.5,304.7 L163.0,304.1 L163.5,303.4 L164.0,302.9 L164.5,302.6 L165.0,302.0 L165.5,301.5 L166.0,301.0 L166.5,300.9 L167.0,300.7 L167.5,301.2 L168.0,301.2 L168.5,301.7 L169.0,302.5 L169.5,303.2 L170.0,304.2 L170.5,304.7 L171.0,305.6 L171.5,306.5 L172.0,307.6 L172.5,308.6 L173.0,310.4 L173.5,311.2 L174.0,312.0 L174.5,313.6 L175.0,315.0 L175.5,316.2 L176.0,317.0 L176.5,318.3 L177.0,318.3 L177.5,320.1 L178.0,320.3 L178.5,321.3 L179.0,322.1 L179.5,322.0 L180.0,323.7 L180.5,323.7 L181.0,324.8 L181.5,325.2 L182.0,325.8 L182.5,326.5 L183.0,326.5 L183.5,327.2 L184.0,327.5 L184.5,327.4 L185.0,328.2 L185.5,328.3 L186.0,328.2 L186.5,329.0 L187.0,329.3 L187.5,329.6 L188.0,328.9 L188.5,329.8 L189.0,329.8 L189.5,329.4 L190.0,329.7 L190.5,330.2 L191.0,330.0 L191.5,330.6 L192.0,330.0 L192.5,330.5 L193.0,330.0 L193.5,329.9 L194.0,330.5 L194.5,330.7 L195.0,330.5 L195.5,330.5 L196.0,330.6 L196.5,330.8 L197.0,330.4 L197.5,330.6 L198.0,331.1 L198.5,330.7 L199.0,330.9 L199.5,330.5 L200.0,330.6 L200.5,330.8 L201.0,331.0 L201.5,331.2 L202.0,331.0 L202.5,330.7 L203.0,332.0 L203.5,331.0 L204.0,331.1 L204.5,330.9 L205.0,331.6 L205.5,331.3 L206.0,331.4 L206.5,331.4 L207.0,331.2 L207.5,330.9 L208.0,331.1 L208.5,331.9 L209.0,331.6 L209.5,331.5 L210.0,331.8 L210.5,331.6 L211.0,331.9 L211.5,331.7 L212.0,331.5 L212.5,331.8 L213.0,331.9 L213.5,331.7 L214.0,331.4 L214.5,331.9 L215.0,332.0 L215.5,331.7 L216.0,331.9 L216.5,331.9 L217.0,331.7 L217.5,331.2 L218.0,332.1 L218.5,331.9 L219.0,332.3 L219.5,332.4 L220.0,331.9 L220.5,331.4 L221.0,332.4 L221.5,332.0 L222.0,332.2 L222.5,332.3 L223.0,332.0 L223.5,332.7 L224.0,332.8 L224.5,332.6 L225.0,332.1 L225.5,332.5 L226.0,332.5 L226.5,333.4 L227.0,332.7 L227.5,333.0 L228.0,332.5 L228.5,332.7 L229.0,333.3 L229.5,333.0 L230.0,333.2 L230.5,332.5 L231.0,332.8 L231.5,333.1 L232.0,332.8 L232.5,333.1 L233.0,333.3 L233.5,333.2 L234.0,333.3 L234.5,332.8 L235.0,333.1 L235.5,333.1 L236.0,332.9 L236.5,333.6 L237.0,333.2 L237.5,333.7 L238.0,333.4 L238.5,333.8 L239.0,333.5 L239.5,332.8 L240.0,333.4 L240.5,333.6 L241.0,333.3 L241.5,333.7 L242.0,333.3 L242.5,333.7 L243.0,333.4 L243.5,334.2 L244.0,334.2 L244.5,333.0 L245.0,333.6 L245.5,333.6 L246.0,334.3 L246.5,334.1 L247.0,333.6 L247.5,333.5 L248.0,333.9 L248.5,333.9 L249.0,334.0 L249.5,333.6 L250.0,334.3 L250.5,333.7 L251.0,332.8 L251.5,333.1 L252.0,334.2 L252.5,333.9 L253.0,333.3 L253.5,334.3 L254.0,333.4 L254.5,333.1 L255.0,333.9 L255.5,333.7 L256.0,334.2 L256.5,333.5 L257.0,333.9 L257.5,333.9 L258.0,333.7 L258.5,333.7 L259.0,334.2 L259.5,334.0 L260.0,334.0 L260.5,333.3 L261.0,333.7 L261.5,334.3 L262.0,333.5 L262.5,334.0 L263.0,334.1 L263.5,333.8 L264.0,334.8 L264.5,333.5 L265.0,333.6 L265.5,333.8 L266.0,333.8 L266.5,334.0 L267.0,333.5 L267.5,334.2 L268.0,333.8 L268.5,334.3 L269.0,334.2 L269.5,334.1 L270.0,333.3 L270.5,334.4 L271.0,334.1 L271.5,334.3 L272.0,334.1 L272.5,334.2 L273.0,333.6 L273.5,333.5 L274.0,333.8 L274.5,333.7 L275.0,334.0 L275.5,334.3 L276.0,333.7 L276.5,333.8 L277.0,333.6 L277.5,334.6 L278.0,333.4 L278.5,334.1 L279.0,333.3 L279.5,334.0 L280.0,334.1 L280.5,333.9 L281.0,333.9 L281.5,334.0 L282.0,333.9 L282.5,333.6 L283.0,333.2 L283.5,333.7 L284.0,333.8 L284.5,333.8 L285.0,333.6 L285.5,333.2 L286.0,333.6 L286.5,333.1 L287.0,333.4 L287.5,333.3 L288.0,333.3 L288.5,333.4 L289.0,332.9 L289.5,333.4 L290.0,332.7 L290.5,332.9 L291.0,333.0 L291.5,332.8 L292.0,332.7 L292.5,332.5 L293.0,333.0 L293.5,332.0 L294.0,332.2 L294.5,331.9 L295.0,332.0 L295.5,331.9 L296.0,331.4 L296.5,331.4 L297.0,331.1 L297.5,330.9 L298.0,330.9 L298.5,330.5 L299.0,330.1 L299.5,330.3 L300.0,329.9 L300.5,329.8 L301.0,329.6 L301.5,329.3 L302.0,328.4 L302.5,328.3 L303.0,327.8 L303.5,327.2 L304.0,326.6 L304.5,326.4 L305.0,326.0 L305.5,326.0 L306.0,325.3 L306.5,325.1 L307.0,324.4 L307.5,324.3 L308.0,324.0 L308.5,323.9 L309.0,323.0 L309.5,323.2 L310.0,323.4 L310.5,322.8 L311.0,322.4 L311.5,321.4 L312.0,321.5 L312.5,321.6 L313.0,321.4 L313.5,321.6 L314.0,321.5 L314.5,321.8 L315.0,322.1 L315.5,322.2 L316.0,322.7 L316.5,323.3 L317.0,323.7 L317.5,323.3 L318.0,323.8 L318.5,324.6 L319.0,324.6 L319.5,325.2 L320.0,325.3 L320.5,326.6 L321.0,326.4 L321.5,326.8 L322.0,327.4 L322.5,327.8 L323.0,328.5 L323.5,328.9 L324.0,329.1 L324.5,329.8 L325.0,330.4 L325.5,330.3 L326.0,330.6 L326.5,331.0 L327.0,331.2 L327.5,331.6 L328.0,332.0 L328.5,332.6 L329.0,332.4 L329.5,333.0 L330.0,333.7 L330.5,333.6 L331.0,333.5 L331.5,333.4 L332.0,333.8 L332.5,334.2 L333.0,334.0 L333.5,334.5 L334.0,334.7 L334.5,334.5 L335.0,334.7 L335.5,334.6 L336.0,335.0 L336.5,335.5 L337.0,335.1 L337.5,335.1 L338.0,335.0 L338.5,335.9 L339.0,335.3 L339.5,335.6 L340.0,335.6 L340.5,335.7 L341.0,336.1 L341.5,335.9 L342.0,335.9 L342.5,336.4 L343.0,336.3 L343.5,336.2 L344.0,335.7 L344.5,336.3 L345.0,336.5 L345.5,336.3 L346.0,336.8 L346.5,336.0 L347.0,336.5 L347.5,335.8 L348.0,336.2 L348.5,337.0 L349.0,337.0 L349.5,336.5 L350.0,336.7 L350.5,336.5 L351.0,337.0 L351.5,336.9 L352.0,336.3 L352.5,336.3 L353.0,336.5 L353.5,336.4 L354.0,336.8 L354.5,336.3 L355.0,336.3 L355.5,336.6 L356.0,336.8 L356.5,336.9 L357.0,336.0 L357.5,336.6 L358.0,336.4 L358.5,336.2 L359.0,336.7 L359.5,336.5 L360.0,336.4 L360.5,336.6 L361.0,336.4 L361.5,336.3 L362.0,336.6 L362.5,336.4 L363.0,336.7 L363.5,336.4 L364.0,336.2 L364.5,336.5 L365.0,336.9 L365.5,336.5 L366.0,336.4 L366.5,336.0 L367.0,336.4 L367.5,336.3 L368.0,336.4 L368.5,336.5 L369.0,336.2 L369.5,336.2 L370.0,336.0 L370.5,336.7 L371.0,336.0 L371.5,336.1 L372.0,336.1 L372.5,336.6 L373.0,336.1 L373.5,335.7 L374.0,336.5 L374.5,336.3 L375.0,336.6 L375.5,336.2 L376.0,336.2 L376.5,335.6 L377.0,336.5 L377.5,336.1 L378.0,336.7 L378.5,335.9 L379.0,335.8 L379.5,335.8 L380.0,336.1 L380.5,335.9 L381.0,335.5 L381.5,335.7 L382.0,335.7 L382.5,335.8 L383.0,335.1 L383.5,335.3 L384.0,335.2 L384.5,335.0 L385.0,335.4 L385.5,334.8 L386.0,334.5 L386.5,334.1 L387.0,334.2 L387.5,334.2 L388.0,334.1 L388.5,334.5 L389.0,334.3 L389.5,333.7 L390.0,333.9 L390.5,333.8 L391.0,333.8 L391.5,333.4 L392.0,332.8 L392.5,332.6 L393.0,333.0 L393.5,333.0 L394.0,332.6 L394.5,332.4 L395.0,332.3 L395.5,332.1 L396.0,331.8 L396.5,331.6 L397.0,331.3 L397.5,330.8 L398.0,330.6 L398.5,330.5 L399.0,330.4 L399.5,330.0 L400.0,330.4 L400.5,330.1 L401.0,329.9 L401.5,329.5 L402.0,329.5 L402.5,329.9 L403.0,329.5 L403.5,329.2 L404.0,329.5 L404.5,328.7 L405.0,329.3 L405.5,329.1 L406.0,328.9 L406.5,328.7 L407.0,328.9 L407.5,329.3 L408.0,329.1 L408.5,329.2 L409.0,329.5 L409.5,329.9 L410.0,330.6 L410.5,330.7 L411.0,331.1 L411.5,330.5 L412.0,330.8 L412.5,331.3 L413.0,331.3 L413.5,331.9 L414.0,331.8 L414.5,332.2 L415.0,331.9 L415.5,332.6 L416.0,333.2 L416.5,333.2 L417.0,333.0 L417.5,333.4 L418.0,333.5 L418.5,333.5 L419.0,334.1 L419.5,333.5 L420.0,333.8 L420.5,334.3 L421.0,334.0 L421.5,334.4 L422.0,334.5 L422.5,334.0 L423.0,334.1 L423.5,333.8 L424.0,334.8 L424.5,334.7 L425.0,334.3 L425.5,334.5 L426.0,334.4 L426.5,335.5 L427.0,334.6 L427.5,334.9 L428.0,334.7 L428.5,334.4 L429.0,334.5 L429.5,334.2 L430.0,333.3 L430.5,334.0 L431.0,334.0 L431.5,334.4 L432.0,333.7 L432.5,334.2 L433.0,333.4 L433.5,333.4 L434.0,333.0 L434.5,334.2 L435.0,333.6 L435.5,333.5 L436.0,333.9 L436.5,333.9 L437.0,334.1 L437.5,334.7 L438.0,334.3 L438.5,334.8 L439.0,334.6 L439.5,334.7 L440.0,335.5 L440.5,335.3 L441.0,335.2 L441.5,336.0 L442.0,335.2 L442.5,335.3 L443.0,336.0 L443.5,336.2 L444.0,336.3 L444.5,336.2 L445.0,336.0 L445.5,336.5 L446.0,335.9 L446.5,337.0 L447.0,336.7 L447.5,336.2 L448.0,337.2 L448.5,337.3 L449.0,337.0 L449.5,337.5 L450.0,337.3 L450.5,337.6 L451.0,337.1 L451.5,337.5 L452.0,337.7 L452.5,336.7 L453.0,338.0 L453.5,337.9 L454.0,337.9 L454.5,337.3 L455.0,338.3 L455.5,337.9 L456.0,338.5 L456.5,337.6 L457.0,338.0 L457.5,338.2 L458.0,337.9 L458.5,337.7 L459.0,337.8 L459.5,338.9 L460.0,338.4 L460.5,337.7 L461.0,337.6 L461.5,338.7 L462.0,338.5 L462.5,338.1 L463.0,338.0 L463.5,338.2 L464.0,338.3 L464.5,338.6 L465.0,338.2 L465.5,338.4 L466.0,338.6 L466.5,338.5 L467.0,337.9 L467.5,338.8 L468.0,337.9 L468.5,338.3 L469.0,338.7 L469.5,338.1 L470.0,339.0 L470.5,338.5 L471.0,338.1 L471.5,338.5 L472.0,338.1 L472.5,338.6 L473.0,338.0 L473.5,338.8 L474.0,338.6 L474.5,338.5 L475.0,338.5 L475.5,339.0 L476.0,338.4 L476.5,338.4 L477.0,338.3 L477.5,338.7 L478.0,338.8 L478.5,338.2 L479.0,339.0 L479.5,338.4 L480.0,338.3 L480.5,338.4 L481.0,338.4 L481.5,338.8 L482.0,338.9 L482.5,339.4 L483.0,338.6 L483.5,338.3 L484.0,338.6 L484.5,338.9 L485.0,338.4 L485.5,338.6 L486.0,338.8 L486.5,338.8 L487.0,338.3 L487.5,338.6 L488.0,338.8 L488.5,338.7 L489.0,338.9 L489.5,338.6 L490.0,338.7 L490.5,338.9 L491.0,338.8 L491.5,339.0 L492.0,338.9 L492.5,338.7 L493.0,338.5 L493.5,339.2 L494.0,338.6 L494.5,339.0 L495.0,339.0 L495.5,338.5 L496.0,338.3 L496.5,338.9 L497.0,338.9 L497.5,338.4 L498.0,338.8 L498.5,339.0 L499.0,339.1 L499.5,338.9 L500.0,338.6 L500.5,339.0 L501.0,338.6 L501.5,338.6 L502.0,339.0 L502.5,339.0 L503.0,338.9 L503.5,338.6 L504.0,338.8 L504.5,338.7 L505.0,338.7 L505.5,338.8 L506.0,338.8 L506.5,338.5 L507.0,338.4 L507.5,339.0 L508.0,339.0 L508.5,339.0 L509.0,338.8 L509.5,339.0 L510.0,338.5 L510.5,338.9 L511.0,338.7 L511.5,338.9 L512.0,339.0 L512.5,338.6 L513.0,338.8 L513.5,338.2 L514.0,338.8 L514.5,339.0 L515.0,339.0 L515.5,338.8 L516.0,339.3 L516.5,338.9 L517.0,339.1 L517.5,338.8 L518.0,338.2 L518.5,338.5 L519.0,338.8 L519.5,338.7 L520.0,339.1 L520.5,339.0 L521.0,339.0 L521.5,338.3 L522.0,339.0 L522.5,339.0 L523.0,339.1 L523.5,338.9 L524.0,339.0 L524.5,339.0 L525.0,339.2 L525.5,338.3 L526.0,338.7 L526.5,338.5 L527.0,338.8 L527.5,338.8 L528.0,338.7 L528.5,338.7 L529.0,338.2 L529.5,338.8 L530.0,338.7 L530.5,338.9 L531.0,338.5 L531.5,339.3 L532.0,338.7 L532.5,338.7 L533.0,339.1 L533.5,338.9 L534.0,338.9 L534.5,339.2 L535.0,339.4 L535.5,338.4" stroke-width="2.0"/>
<path d="M37.0,335.2 L37.5,336.4 L38.0,335.6 L38.5,336.1 L39.0,336.5 L39.5,336.0 L40.0,336.5 L40.5,336.6 L41.0,336.2 L41.5,336.4 L42.0,336.1 L42.5,336.4 L43.0,336.7 L43.5,337.4 L44.0,337.2 L44.5,337.4 L45.0,336.7 L45.5,337.5 L46.0,337.3 L46.5,337.0 L47.0,336.8 L47.5,337.9 L48.0,337.8 L48.5,337.8 L49.0,337.8 L49.5,338.0 L50.0,338.0 L50.5,337.9 L51.0,338.7 L51.5,338.8 L52.0,337.9 L52.5,339.3 L53.0,338.7 L53.5,338.9 L54.0,338.6 L54.5,339.0 L55.0,339.7 L55.5,338.9 L56.0,339.0 L56.5,339.6 L57.0,339.3 L57.5,338.9 L58.0,339.8 L58.5,338.9 L59.0,339.1 L59.5,340.0 L60.0,340.0 L60.5,338.9 L61.0,339.9 L61.5,339.9 L62.0,340.1 L62.5,339.6 L63.0,340.2 L63.5,340.8 L64.0,340.5 L64.5,339.6 L65.0,340.6 L65.5,341.3 L66.0,341.0 L66.5,340.3 L67.0,340.2 L67.5,340.8 L68.0,341.3 L68.5,340.9 L69.0,341.8 L69.5,341.2 L70.0,341.5 L70.5,341.2 L71.0,341.3 L71.5,341.6 L72.0,341.4 L72.5,342.3 L73.0,341.8 L73.5,341.6 L74.0,341.5 L74.5,342.0 L75.0,341.7 L75.5,341.8 L76.0,342.5 L76.5,341.8 L77.0,342.2 L77.5,341.8 L78.0,342.4 L78.5,341.9 L79.0,342.7 L79.5,342.3 L80.0,342.7 L80.5,342.2 L81.0,343.4 L81.5,343.0 L82.0,343.4 L82.5,343.5 L83.0,343.5 L83.5,342.5 L84.0,343.5 L84.5,343.1 L85.0,344.0 L85.5,343.4 L86.0,342.9 L86.5,343.0 L87.0,343.3 L87.5,343.9 L88.0,343.5 L88.5,343.7 L89.0,343.9 L89.5,343.7 L90.0,344.1 L90.5,344.7 L91.0,344.4 L91.5,343.0 L92.0,343.6 L92.5,344.4 L93.0,344.2 L93.5,344.0 L94.0,344.7 L94.5,342.7 L95.0,343.4 L95.5,344.1 L96.0,344.0 L96.5,344.2 L97.0,343.8 L97.5,344.3 L98.0,343.6 L98.5,343.2 L99.0,343.8 L99.5,343.4 L100.0,343.3 L100.5,343.3 L101.0,343.5 L101.5,342.7 L102.0,342.6 L102.5,342.6 L103.0,342.7 L103.5,342.7 L104.0,342.6 L104.5,342.3 L105.0,342.1 L105.5,342.0 L106.0,341.5 L106.5,341.2 L107.0,341.4 L107.5,340.7 L108.0,340.2 L108.5,339.6 L109.0,339.5 L109.5,338.3 L110.0,338.0 L110.5,337.5 L111.0,336.2 L111.5,336.3 L112.0,334.5 L112.5,334.4 L113.0,333.3 L113.5,332.6 L114.0,331.5 L114.5,330.0 L115.0,328.3 L115.5,327.1 L116.0,326.2 L116.5,324.0 L117.0,323.9 L117.5,321.0 L118.0,319.8 L118.5,318.9 L119.0,317.3 L119.5,316.2 L120.0,314.5 L120.5,314.3 L121.0,313.5 L121.5,313.2 L122.0,312.8 L122.5,312.1 L123.0,312.2 L123.5,312.9 L124.0,312.9 L124.5,313.8 L125.0,315.2 L125.5,315.9 L126.0,317.9 L126.5,319.1 L127.0,320.7 L127.5,322.7 L128.0,324.0 L128.5,325.4 L129.0,327.5 L129.5,329.0 L130.0,331.2 L130.5,333.1 L131.0,334.2 L131.5,335.3 L132.0,336.3 L132.5,337.2 L133.0,339.2 L133.5,339.8 L134.0,340.9 L134.5,341.5 L135.0,341.8 L135.5,343.2 L136.0,344.0 L136.5,345.0 L137.0,345.5 L137.5,345.7 L138.0,346.2 L138.5,346.9 L139.0,346.8 L139.5,346.8 L140.0,347.9 L140.5,348.7 L141.0,348.1 L141.5,348.0 L142.0,349.0 L142.5,349.3 L143.0,349.0 L143.5,349.9 L144.0,350.1 L144.5,349.5 L145.0,350.6 L145.5,350.3 L146.0,349.8 L146.5,350.0 L147.0,350.2 L147.5,349.9 L148.0,349.6 L148.5,349.6 L149.0,350.3 L149.5,349.5 L150.0,349.9 L150.5,349.6 L151.0,350.3 L151.5,349.3 L152.0,349.0 L152.5,349.2 L153.0,348.4 L153.5,347.6 L154.0,347.5 L154.5,346.9 L155.0,346.3 L155.5,345.3 L156.0,345.2 L156.5,344.6 L157.0,343.8 L157.5,342.1 L158.0,341.2 L158.5,341.3 L159.0,339.7 L159.5,339.2 L160.0,337.8 L160.5,336.3 L161.0,334.9 L161.5,333.5 L162.0,331.9 L162.5,330.0 L163.0,328.8 L163.5,326.5 L164.0,325.2 L164.5,323.7 L165.0,321.8 L165.5,320.9 L166.0,319.5 L166.5,319.2 L167.0,318.3 L167.5,317.9 L168.0,317.5 L168.5,317.8 L169.0,318.5 L169.5,318.9 L170.0,320.4 L170.5,321.1 L171.0,321.9 L171.5,323.7 L172.0,325.1 L172.5,326.3 L173.0,328.1 L173.5,330.0 L174.0,332.5 L174.5,333.6 L175.0,335.2 L175.5,336.6 L176.0,337.9 L176.5,339.0 L177.0,340.5 L177.5,341.4 L178.0,341.7 L178.5,343.2 L179.0,343.6 L179.5,344.6 L180.0,346.1 L180.5,346.8 L181.0,347.2 L181.5,347.5 L182.0,348.3 L182.5,349.1 L183.0,349.4 L183.5,350.8 L184.0,351.0 L184.5,352.1 L185.0,352.0 L185.5,352.0 L186.0,353.6 L186.5,353.4 L187.0,353.7 L187.5,354.6 L188.0,354.8 L188.5,354.7 L189.0,355.7 L189.5,355.5 L190.0,355.4 L190.5,355.7 L191.0,356.4 L191.5,356.8 L192.0,355.9 L192.5,356.0 L193.0,356.6 L193.5,357.1 L194.0,356.6 L194.5,356.9 L195.0,357.0 L195.5,357.0 L196.0,356.4 L196.5,357.3 L197.0,357.4 L197.5,358.0 L198.0,357.8 L198.5,357.1 L199.0,357.8 L199.5,357.6 L200.0,358.7 L200.5,358.4 L201.0,358.4 L201.5,357.9 L202.0,358.0 L202.5,358.1 L203.0,359.1 L203.5,358.9 L204.0,358.7 L204.5,358.4 L205.0,358.8 L205.5,358.6 L206.0,359.1 L206.5,358.8 L207.0,359.7 L207.5,359.1 L208.0,358.8 L208.5,359.4 L209.0,360.0 L209.5,359.1 L210.0,360.1 L210.5,359.4 L211.0,359.3 L211.5,358.8 L212.0,360.2 L212.5,360.0 L213.0,359.8 L213.5,359.2 L214.0,360.1 L214.5,359.7 L215.0,359.8 L215.5,360.1 L216.0,359.7 L216.5,360.3 L217.0,359.7 L217.5,360.1 L218.0,360.8 L218.5,360.1 L219.0,359.9 L219.5,360.6 L220.0,360.2 L220.5,360.0 L221.0,360.1 L221.5,360.4 L222.0,360.4 L222.5,360.6 L223.0,359.9 L223.5,360.3 L224.0,360.1 L224.5,360.7 L225.0,360.2 L225.5,360.6 L226.0,360.9 L226.5,360.8 L227.0,360.4 L227.5,360.9 L228.0,361.2 L228.5,360.8 L229.0,360.7 L229.5,361.1 L230.0,360.7 L230.5,360.6 L231.0,361.0 L231.5,360.2 L232.0,360.6 L232.5,361.6 L233.0,361.2 L233.5,361.3 L234.0,360.6 L234.5,360.6 L235.0,361.3 L235.5,360.9 L236.0,361.4 L236.5,361.7 L237.0,361.7 L237.5,362.0 L238.0,361.0 L238.5,362.1 L239.0,360.9 L239.5,361.4 L240.0,361.3 L240.5,361.5 L241.0,361.5 L241.5,361.1 L242.0,361.8 L242.5,361.6 L243.0,361.8 L243.5,362.0 L244.0,362.1 L244.5,360.9 L245.0,361.4 L245.5,361.4 L246.0,361.3 L246.5,361.4 L247.0,361.8 L247.5,361.0 L248.0,361.5 L248.5,360.8 L249.0,361.8 L249.5,361.1 L250.0,362.1 L250.5,361.4 L251.0,361.8 L251.5,361.4 L252.0,361.5 L252.5,361.8 L253.0,361.2 L253.5,361.4 L254.0,361.2 L254.5,361.3 L255.0,360.8 L255.5,361.3 L256.0,360.9 L256.5,361.0 L257.0,361.5 L257.5,360.9 L258.0,361.4 L258.5,361.4 L259.0,361.2 L259.5,361.4 L260.0,361.5 L260.5,361.8 L261.0,361.7 L261.5,361.5 L262.0,361.0 L262.5,361.1 L263.0,361.8 L263.5,360.8 L264.0,361.2 L264.5,361.9 L265.0,361.1 L265.5,361.7 L266.0,361.4 L266.5,361.0 L267.0,360.6 L267.5,361.0 L268.0,360.8 L268.5,361.3 L269.0,361.3 L269.5,361.0 L270.0,360.9 L270.5,361.4 L271.0,361.1 L271.5,361.5 L272.0,361.4 L272.5,360.9 L273.0,361.6 L273.5,360.9 L274.0,361.0 L274.5,361.1 L275.0,360.8 L275.5,361.2 L276.0,361.1 L276.5,360.6 L277.0,361.8 L277.5,361.1 L278.0,361.2 L278.5,360.4 L279.0,360.6 L279.5,360.6 L280.0,360.7 L280.5,361.2 L281.0,361.3 L281.5,360.2 L282.0,360.6 L282.5,360.8 L283.0,360.5 L283.5,360.7 L284.0,360.6 L284.5,361.2 L285.0,360.6 L285.5,360.5 L286.0,360.8 L286.5,360.2 L287.0,359.9 L287.5,360.0 L288.0,360.0 L288.5,359.5 L289.0,360.7 L289.5,360.1 L290.0,359.8 L290.5,359.6 L291.0,360.3 L291.5,359.5 L292.0,360.1 L292.5,359.8 L293.0,359.6 L293.5,359.7 L294.0,358.9 L294.5,358.8 L295.0,358.7 L295.5,358.8 L296.0,359.0 L296.5,358.6 L297.0,358.4 L297.5,357.6 L298.0,358.3 L298.5,357.8 L299.0,357.4 L299.5,357.4 L300.0,356.8 L300.5,356.5 L301.0,356.4 L301.5,356.5 L302.0,355.1 L302.5,355.7 L303.0,355.1 L303.5,355.0 L304.0,354.1 L304.5,354.2 L305.0,353.1 L305.5,353.9 L306.0,353.1 L306.5,352.1 L307.0,352.2 L307.5,351.6 L308.0,350.9 L308.5,350.2 L309.0,349.5 L309.5,349.7 L310.0,348.8 L310.5,348.1 L311.0,347.0 L311.5,346.8 L312.0,346.5 L312.5,345.8 L313.0,345.4 L313.5,344.9 L314.0,345.2 L314.5,344.3 L315.0,344.6 L315.5,344.4 L316.0,344.7 L316.5,344.8 L317.0,345.5 L317.5,346.3 L318.0,346.2 L318.5,347.6 L319.0,348.0 L319.5,348.3 L320.0,349.3 L320.5,350.3 L321.0,351.0 L321.5,351.3 L322.0,352.3 L322.5,352.9 L323.0,353.9 L323.5,354.5 L324.0,354.6 L324.5,355.3 L325.0,356.6 L325.5,356.6 L326.0,356.9 L326.5,357.4 L327.0,357.6 L327.5,358.6 L328.0,359.1 L328.5,359.2 L329.0,359.4 L329.5,360.1 L330.0,360.3 L330.5,360.7 L331.0,360.9 L331.5,359.9 L332.0,360.6 L332.5,360.8 L333.0,360.9 L333.5,361.2 L334.0,362.3 L334.5,361.5 L335.0,361.6 L335.5,361.8 L336.0,362.3 L336.5,361.9 L337.0,361.5 L337.5,362.1 L338.0,362.2 L338.5,362.1 L339.0,362.3 L339.5,363.0 L340.0,362.6 L340.5,363.0 L341.0,363.1 L341.5,362.8 L342.0,363.2 L342.5,363.0 L343.0,362.8 L343.5,363.2 L344.0,362.6 L344.5,364.1 L345.0,363.6 L345.5,363.2 L346.0,363.4 L346.5,362.4 L347.0,363.1 L347.5,363.9 L348.0,363.6 L348.5,363.6 L349.0,363.2 L349.5,363.4 L350.0,363.8 L350.5,363.6 L351.0,363.3 L351.5,363.8 L352.0,363.7 L352.5,363.6 L353.0,364.4 L353.5,364.4 L354.0,363.6 L354.5,363.5 L355.0,363.4 L355.5,363.7 L356.0,363.4 L356.5,363.9 L357.0,364.3 L357.5,364.0 L358.0,363.8 L358.5,364.2 L359.0,364.1 L359.5,363.9 L360.0,364.6 L360.5,364.6 L361.0,364.0 L361.5,363.9 L362.0,364.1 L362.5,364.1 L363.0,364.2 L363.5,363.9 L364.0,364.1 L364.5,363.5 L365.0,364.2 L365.5,364.5 L366.0,363.3 L366.5,364.4 L367.0,364.0 L367.5,363.3 L368.0,363.9 L368.5,363.9 L369.0,364.0 L369.5,364.0 L370.0,363.3 L370.5,364.0 L371.0,363.5 L371.5,363.4 L372.0,363.4 L372.5,363.5 L373.0,363.1 L373.5,362.9 L374.0,364.1 L374.5,363.5 L375.0,363.2 L375.5,363.8 L376.0,363.7 L376.5,363.3 L377.0,363.8 L377.5,362.5 L378.0,363.5 L378.5,363.9 L379.0,363.4 L379.5,363.3 L380.0,363.0 L380.5,363.2 L381.0,363.5 L381.5,362.8 L382.0,362.4 L382.5,363.8 L383.0,363.6 L383.5,363.5 L384.0,363.5 L384.5,363.6 L385.0,363.1 L385.5,363.3 L386.0,363.4 L386.5,363.2 L387.0,363.8 L387.5,363.1 L388.0,362.8 L388.5,362.9 L389.0,363.2 L389.5,362.7 L390.0,362.4 L390.5,362.7 L391.0,362.1 L391.5,361.5 L392.0,362.4 L392.5,362.0 L393.0,361.0 L393.5,361.4 L394.0,361.5 L394.5,360.6 L395.0,361.0 L395.5,360.9 L396.0,360.9 L396.5,360.2 L397.0,360.3 L397.5,360.2 L398.0,359.4 L398.5,359.1 L399.0,359.2 L399.5,359.1 L400.0,359.0 L400.5,358.5 L401.0,358.4 L401.5,358.1 L402.0,358.1 L402.5,357.7 L403.0,357.3 L403.5,357.6 L404.0,358.0 L404.5,357.1 L405.0,357.9 L405.5,356.9 L406.0,357.7 L406.5,356.2 L407.0,357.7 L407.5,357.8 L408.0,357.6 L408.5,357.0 L409.0,357.8 L409.5,357.0 L410.0,358.3 L410.5,357.7 L411.0,357.5 L411.5,358.1 L412.0,357.7 L412.5,358.4 L413.0,358.5 L413.5,358.8 L414.0,359.2 L414.5,358.5 L415.0,359.2 L415.5,358.8 L416.0,360.0 L416.5,359.6 L417.0,360.6 L417.5,360.6 L418.0,359.8 L418.5,360.3 L419.0,360.6 L419.5,360.3 L420.0,361.5 L420.5,361.2 L421.0,360.3 L421.5,361.1 L422.0,361.3 L422.5,361.3 L423.0,362.3 L423.5,361.5 L424.0,361.3 L424.5,361.7 L425.0,361.0 L425.5,361.7 L426.0,361.6 L426.5,361.9 L427.0,361.1 L427.5,361.9 L428.0,362.3 L428.5,362.3 L429.0,362.2 L429.5,361.3 L430.0,361.6 L430.5,361.2 L431.0,361.6 L431.5,360.9 L432.0,362.1 L432.5,360.9 L433.0,361.4 L433.5,361.5 L434.0,360.6 L434.5,360.8 L435.0,361.1 L435.5,360.7 L436.0,360.4 L436.5,361.1 L437.0,361.0 L437.5,361.0 L438.0,362.0 L438.5,361.1 L439.0,361.4 L439.5,361.0 L440.0,361.5 L440.5,362.0 L441.0,362.2 L441.5,362.0 L442.0,361.5 L442.5,362.3 L443.0,361.6 L443.5,362.5 L444.0,362.2 L444.5,362.6 L445.0,363.3 L445.5,363.0 L446.0,364.0 L446.5,363.1 L447.0,363.3 L447.5,363.7 L448.0,364.1 L448.5,364.3 L449.0,364.7 L449.5,364.0 L450.0,364.3 L450.5,364.3 L451.0,365.3 L451.5,364.8 L452.0,364.9 L452.5,365.2 L453.0,364.4 L453.5,365.2 L454.0,365.8 L454.5,365.5 L455.0,365.2 L455.5,365.5 L456.0,366.2 L456.5,365.6 L457.0,366.4 L457.5,365.6 L458.0,365.8 L458.5,366.0 L459.0,366.2 L459.5,365.7 L460.0,365.7 L460.5,365.8 L461.0,366.4 L461.5,366.2 L462.0,365.8 L462.5,365.5 L463.0,366.0 L463.5,365.6 L464.0,366.2 L464.5,366.5 L465.0,366.6 L465.5,366.1 L466.0,366.0 L466.5,366.5 L467.0,366.6 L467.5,366.5 L468.0,366.4 L468.5,366.2 L469.0,366.9 L469.5,366.3 L470.0,366.3 L470.5,366.6 L471.0,366.5 L471.5,366.9 L472.0,366.9 L472.5,366.6 L473.0,365.9 L473.5,366.9 L474.0,367.6 L474.5,366.6 L475.0,365.9 L475.5,366.7 L476.0,366.9 L476.5,366.2 L477.0,366.6 L477.5,367.0 L478.0,366.4 L478.5,367.0 L479.0,366.9 L479.5,366.9 L480.0,366.2 L480.5,366.8 L481.0,367.0 L481.5,366.4 L482.0,366.1 L482.5,366.7 L483.0,367.0 L483.5,366.2 L484.0,366.7 L484.5,366.4 L485.0,366.5 L485.5,366.0 L486.0,366.1 L486.5,366.4 L487.0,366.9 L487.5,366.3 L488.0,366.5 L488.5,366.6 L489.0,366.7 L489.5,366.8 L490.0,367.0 L490.5,366.4 L491.0,366.1 L491.5,366.5 L492.0,366.6 L492.5,365.8 L493.0,366.9 L493.5,366.3 L494.0,366.4 L494.5,366.1 L495.0,366.3 L495.5,366.6 L496.0,366.6 L496.5,366.6 L497.0,366.1 L497.5,366.2 L498.0,366.8 L498.5,366.3 L499.0,366.2 L499.5,365.9 L500.0,366.2 L500.5,366.6 L501.0,367.2 L501.5,367.1 L502.0,366.6 L502.5,367.0 L503.0,366.6 L503.5,366.1 L504.0,366.2 L504.5,367.5 L505.0,366.0 L505.5,366.4 L506.0,366.2 L506.5,367.0 L507.0,366.9 L507.5,366.3 L508.0,366.1 L508.5,366.7 L509.0,365.9 L509.5,366.0 L510.0,366.5 L510.5,367.5 L511.0,366.7 L511.5,365.8 L512.0,367.2 L512.5,366.1 L513.0,366.5 L513.5,366.2 L514.0,366.7 L514.5,366.5 L515.0,366.2 L515.5,366.4 L516.0,366.3 L516.5,366.6 L517.0,366.4 L517.5,366.7 L518.0,366.2 L518.5,367.0 L519.0,366.2 L519.5,365.8 L520.0,365.9 L520.5,366.6 L521.0,366.3 L521.5,366.4 L522.0,367.0 L522.5,366.2 L523.0,366.1 L523.5,366.7 L524.0,366.5 L524.5,366.5 L525.0,366.3 L525.5,367.0 L526.0,366.3 L526.5,365.9 L527.0,366.1 L527.5,366.1 L528.0,366.1 L528.5,366.3 L529.0,366.0 L529.5,366.8 L530.0,366.7 L530.5,365.9 L531.0,366.1 L531.5,366.7 L532.0,366.1 L532.5,366.4 L533.0,366.3 L533.5,366.7 L534.0,366.3 L534.5,365.7 L535.0,366.2 L535.5,366.3" stroke-width="2.0"/>
</g>
<g stroke="#000" stroke-width="1.7" fill="none">
<line x1="36.9" y1="5.7" x2="36.9" y2="371.75"/>
<line x1="36.05" y1="370.9" x2="536.65" y2="370.9"/>
<line x1="36.9" y1="370.9" x2="36.9" y2="375.3"/>
<line x1="75.3" y1="370.9" x2="75.3" y2="378.6"/>
<line x1="113.7" y1="370.9" x2="113.7" y2="375.3"/>
<line x1="152.0" y1="370.9" x2="152.0" y2="378.6"/>
<line x1="190.4" y1="370.9" x2="190.4" y2="375.3"/>
<line x1="228.8" y1="370.9" x2="228.8" y2="378.6"/>
<line x1="267.1" y1="370.9" x2="267.1" y2="375.3"/>
<line x1="305.5" y1="370.9" x2="305.5" y2="378.6"/>
<line x1="343.9" y1="370.9" x2="343.9" y2="375.3"/>
<line x1="382.3" y1="370.9" x2="382.3" y2="378.6"/>
<line x1="420.6" y1="370.9" x2="420.6" y2="375.3"/>
<line x1="459.0" y1="370.9" x2="459.0" y2="378.6"/>
<line x1="497.4" y1="370.9" x2="497.4" y2="375.3"/>
<line x1="535.8" y1="370.9" x2="535.8" y2="378.6"/>
</g>
<g fill="#000">
<rect x="109.0" y="146.9" width="10.6" height="10.6"/>
<rect x="134.7" y="95.7" width="10.6" height="10.6"/>
<rect x="148.1" y="141.7" width="10.6" height="10.6"/>
<rect x="246.7" y="153.1" width="10.6" height="10.6"/>
<rect x="322.7" y="151.5" width="10.6" height="10.6"/>
<rect x="382.3" y="151.5" width="10.6" height="10.6"/>
<rect x="424.3" y="151.7" width="10.6" height="10.6"/>
<rect x="432.9" y="152.7" width="10.6" height="10.6"/>
<rect x="472.1" y="152.7" width="10.6" height="10.6"/>
<circle cx="140.0" cy="87.1" r="6.2"/>
<circle cx="271.7" cy="152.4" r="6.2"/>
<circle cx="379.0" cy="144.8" r="6.2"/>
<circle cx="478.0" cy="144.3" r="6.2"/>
<path d="M132.3,69.6 L140.0,61.9 L147.7,69.6 L140.0,77.3z"/>
<path d="M264.1,122.3 L271.8,114.6 L279.5,122.3 L271.8,130.0z"/>
<path d="M371.3,128.2 L379.0,120.5 L386.7,128.2 L379.0,135.9z"/>
<path d="M470.3,126.1 L478.0,118.4 L485.7,126.1 L478.0,133.8z"/>
<path d="M71.0,138.0 L84.0,131.0 L84.0,145.0z"/>
<path d="M82.5,143.5 L95.5,136.5 L95.5,150.5z"/>
<path d="M172.7,149.7 L185.7,142.7 L185.7,156.7z"/>
<path d="M180.7,144.0 L193.7,137.0 L193.7,151.0z"/>
<path d="M260.7,137.0 L273.7,130.0 L273.7,144.0z"/>
<path d="M315.8,145.4 L328.8,138.4 L328.8,152.4z"/>
<path d="M324.8,145.4 L337.8,138.4 L337.8,152.4z"/>
<path d="M332.0,153.0 L345.0,146.0 L345.0,160.0z"/>
<path d="M390.3,155.3 L403.3,148.3 L403.3,162.3z"/>
<path d="M397.8,155.3 L410.8,148.3 L410.8,162.3z"/>
<path d="M446.0,154.5 L459.0,147.5 L459.0,161.5z"/>
<path d="M121.5,169.5 L128.7,181.6 L114.3,181.6z"/>
<path d="M165.2,173.7 L172.4,185.8 L158.0,185.8z"/>
<path d="M309.0,179.6 L316.2,191.7 L301.8,191.7z"/>
<path d="M400.7,179.6 L407.9,191.7 L393.5,191.7z"/>
<path d="M430.5,179.6 L437.7,191.7 L423.3,191.7z"/>
<path d="M68.2,226.7 L82.2,226.7 L75.2,238.7z"/>
<path d="M223.3,232.3 L237.3,232.3 L230.3,244.3z"/>
<rect x="57.0" y="16.5" width="10.6" height="10.6"/>
<circle cx="217.9" cy="22.1" r="6.2"/>
<path d="M376.9,14.5 L384.1,26.6 L369.7,26.6z"/>
<path d="M55.3,43.8 L69.3,43.8 L62.3,55.8z"/>
<path d="M224.2,48.0 L237.2,41.0 L237.2,55.0z"/>
<path d="M398.3,47.9 L405.8,40.4 L413.3,47.9 L405.8,55.4z"/>
</g>
<g id="ticklabels">
<text transform="translate(75.2,401.8) scale(0.95,1)" text-anchor="middle" font-size="24.6">30</text>
<text transform="translate(151.9,401.8) scale(0.95,1)" text-anchor="middle" font-size="24.6">40</text>
<text transform="translate(228.7,401.8) scale(0.95,1)" text-anchor="middle" font-size="24.6">50</text>
<text transform="translate(305.4,401.8) scale(0.95,1)" text-anchor="middle" font-size="24.6">60</text>
<text transform="translate(382.2,401.8) scale(0.95,1)" text-anchor="middle" font-size="24.6">70</text>
<text transform="translate(458.9,401.8) scale(0.95,1)" text-anchor="middle" font-size="24.6">80</text>
<text transform="translate(535.7,401.8) scale(0.95,1)" text-anchor="middle" font-size="24.6">90</text>
</g>
<g id="curvelabels">
<text transform="translate(534,163.0) scale(0.955,1)" text-anchor="end" font-size="17.6">2 h</text>
<text transform="translate(534,191.2) scale(0.955,1)" text-anchor="end" font-size="17.6">5 h</text>
<text transform="translate(534,219.4) scale(0.955,1)" text-anchor="end" font-size="17.6">10 h</text>
<text transform="translate(534,247.6) scale(0.955,1)" text-anchor="end" font-size="17.6">15 h</text>
<text transform="translate(534,276.6) scale(0.955,1)" text-anchor="end" font-size="17.6">20 h</text>
<text transform="translate(534,305.2) scale(0.955,1)" text-anchor="end" font-size="17.6">30 h</text>
<text transform="translate(534,334.3) scale(0.955,1)" text-anchor="end" font-size="17.6">50 h</text>
<text transform="translate(534,363.0) scale(0.955,1)" text-anchor="end" font-size="17.6">100 h</text>
</g>
<g id="legend" font-size="16.5">
<text x="86.7" y="27.8" textLength="58" lengthAdjust="spacingAndGlyphs">α-Ti (P6</text>
<text x="145.3" y="33.6" font-size="10" textLength="4" lengthAdjust="spacingAndGlyphs">3</text>
<text x="149.8" y="27.8" textLength="43.9" lengthAdjust="spacingAndGlyphs">/mmc)</text>
<text id="t_beta" x="242.3" y="27.8" textLength="85.2" lengthAdjust="spacingAndGlyphs">β-Ti (Im3m)</text>
<text id="t_gamma" x="404.7" y="27.8" textLength="88" lengthAdjust="spacingAndGlyphs">γ-Ti (Fm3m)</text>
<text x="86.9" y="53.8" textLength="58.1" lengthAdjust="spacingAndGlyphs">YSZ (P4</text>
<text x="145.3" y="59.6" font-size="10" textLength="4" lengthAdjust="spacingAndGlyphs">2</text>
<text x="149.8" y="53.8" textLength="45.7" lengthAdjust="spacingAndGlyphs">/nm:1)</text>
<text x="256.8" y="53.8" textLength="69" lengthAdjust="spacingAndGlyphs">bct-Sn (I4</text>
<text x="326.8" y="59.6" font-size="10" textLength="3.4" lengthAdjust="spacingAndGlyphs">1</text>
<text x="330.9" y="53.8" textLength="50.8" lengthAdjust="spacingAndGlyphs">/amd:1)</text>
<text id="t_ta" x="429.8" y="53.8" textLength="101.7" lengthAdjust="spacingAndGlyphs">bcc-Ta (Im3m)</text>
</g>
<g stroke="#000" stroke-width="1.4" fill="none">
<line x1="300.2" y1="13.8" x2="308.4" y2="13.8"/>
<line x1="464.7" y1="13.8" x2="473" y2="13.8"/>
<line x1="504.2" y1="39.3" x2="512.9" y2="39.3"/>
</g>
<text id="xlabel" transform="translate(286.2,435.9) scale(1.005,1)" text-anchor="middle" font-size="31">2θ (°)</text>
<text id="ylabel" transform="translate(21.9,189.3) rotate(-90) scale(0.99,1)" text-anchor="middle" font-size="31">Intensity (a.u)</text>
</svg>
</body></html>
